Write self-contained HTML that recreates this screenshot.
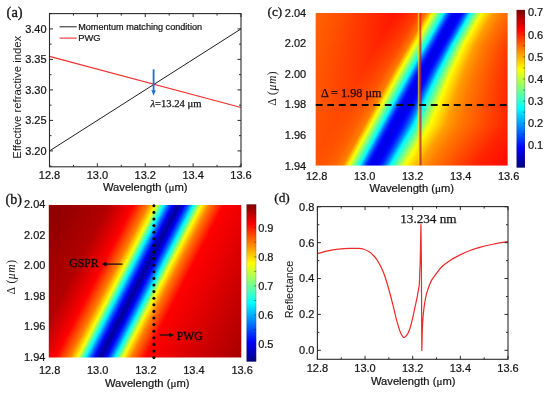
<!DOCTYPE html>
<html><head><meta charset="utf-8"><title>Figure</title>
<style>html,body{margin:0;padding:0;background:#fff;width:550px;height:396px;overflow:hidden} svg{display:block}</style>
</head><body>
<svg width="550" height="396" viewBox="0 0 550 396"><defs><linearGradient id="gB" gradientUnits="userSpaceOnUse" x1="-200" y1="0" x2="200" y2="0"><stop offset="0.0000" stop-color="#8a0000"/><stop offset="0.0100" stop-color="#8a0000"/><stop offset="0.0200" stop-color="#8a0000"/><stop offset="0.0300" stop-color="#8a0000"/><stop offset="0.0400" stop-color="#8b0000"/><stop offset="0.0500" stop-color="#8b0000"/><stop offset="0.0600" stop-color="#8b0000"/><stop offset="0.0700" stop-color="#8b0000"/><stop offset="0.0800" stop-color="#8c0000"/><stop offset="0.0900" stop-color="#8c0000"/><stop offset="0.1000" stop-color="#8c0000"/><stop offset="0.1100" stop-color="#8d0000"/><stop offset="0.1200" stop-color="#8d0000"/><stop offset="0.1300" stop-color="#8d0000"/><stop offset="0.1400" stop-color="#8d0000"/><stop offset="0.1500" stop-color="#8e0000"/><stop offset="0.1600" stop-color="#8e0000"/><stop offset="0.1700" stop-color="#8e0000"/><stop offset="0.1800" stop-color="#8e0000"/><stop offset="0.1900" stop-color="#8f0000"/><stop offset="0.2000" stop-color="#8f0000"/><stop offset="0.2100" stop-color="#920000"/><stop offset="0.2200" stop-color="#950000"/><stop offset="0.2300" stop-color="#970000"/><stop offset="0.2400" stop-color="#9a0000"/><stop offset="0.2500" stop-color="#9d0000"/><stop offset="0.2600" stop-color="#a00000"/><stop offset="0.2700" stop-color="#a30000"/><stop offset="0.2800" stop-color="#a60000"/><stop offset="0.2900" stop-color="#a90000"/><stop offset="0.3000" stop-color="#ab0000"/><stop offset="0.3100" stop-color="#ae0000"/><stop offset="0.3200" stop-color="#b10000"/><stop offset="0.3250" stop-color="#b30000"/><stop offset="0.3300" stop-color="#b90000"/><stop offset="0.3400" stop-color="#c50000"/><stop offset="0.3500" stop-color="#d10000"/><stop offset="0.3600" stop-color="#dd0000"/><stop offset="0.3700" stop-color="#ea0000"/><stop offset="0.3800" stop-color="#f60000"/><stop offset="0.3875" stop-color="#ff0000"/><stop offset="0.3900" stop-color="#ff0900"/><stop offset="0.4000" stop-color="#ff2c00"/><stop offset="0.4100" stop-color="#ff4f00"/><stop offset="0.4200" stop-color="#ff7200"/><stop offset="0.4238" stop-color="#ff8000"/><stop offset="0.4300" stop-color="#ffa900"/><stop offset="0.4400" stop-color="#ffeb00"/><stop offset="0.4430" stop-color="#ffff00"/><stop offset="0.4500" stop-color="#a1ff5e"/><stop offset="0.4525" stop-color="#80ff80"/><stop offset="0.4600" stop-color="#20ffdf"/><stop offset="0.4625" stop-color="#00ffff"/><stop offset="0.4700" stop-color="#00a0ff"/><stop offset="0.4750" stop-color="#0061ff"/><stop offset="0.4800" stop-color="#0030ff"/><stop offset="0.4850" stop-color="#0000ff"/><stop offset="0.4900" stop-color="#0000d3"/><stop offset="0.4925" stop-color="#0000bd"/><stop offset="0.5000" stop-color="#00009e"/><stop offset="0.5075" stop-color="#0000bd"/><stop offset="0.5100" stop-color="#0000d3"/><stop offset="0.5150" stop-color="#0000ff"/><stop offset="0.5200" stop-color="#0030ff"/><stop offset="0.5250" stop-color="#0061ff"/><stop offset="0.5300" stop-color="#00a0ff"/><stop offset="0.5375" stop-color="#00ffff"/><stop offset="0.5400" stop-color="#20ffdf"/><stop offset="0.5475" stop-color="#80ff80"/><stop offset="0.5500" stop-color="#a1ff5e"/><stop offset="0.5570" stop-color="#ffff00"/><stop offset="0.5600" stop-color="#ffeb00"/><stop offset="0.5700" stop-color="#ffa900"/><stop offset="0.5763" stop-color="#ff8000"/><stop offset="0.5800" stop-color="#ff7200"/><stop offset="0.5900" stop-color="#ff4f00"/><stop offset="0.6000" stop-color="#ff2c00"/><stop offset="0.6100" stop-color="#ff0900"/><stop offset="0.6125" stop-color="#ff0000"/><stop offset="0.6200" stop-color="#fc0000"/><stop offset="0.6300" stop-color="#f90000"/><stop offset="0.6400" stop-color="#f50000"/><stop offset="0.6500" stop-color="#f20000"/><stop offset="0.6600" stop-color="#ee0000"/><stop offset="0.6700" stop-color="#ea0000"/><stop offset="0.6750" stop-color="#e90000"/><stop offset="0.6800" stop-color="#e70000"/><stop offset="0.6900" stop-color="#e30000"/><stop offset="0.7000" stop-color="#df0000"/><stop offset="0.7100" stop-color="#db0000"/><stop offset="0.7200" stop-color="#d70000"/><stop offset="0.7300" stop-color="#d40000"/><stop offset="0.7400" stop-color="#d00000"/><stop offset="0.7500" stop-color="#cc0000"/><stop offset="0.7600" stop-color="#c80000"/><stop offset="0.7700" stop-color="#c50000"/><stop offset="0.7800" stop-color="#c10000"/><stop offset="0.7900" stop-color="#be0000"/><stop offset="0.8000" stop-color="#ba0000"/><stop offset="0.8100" stop-color="#b70000"/><stop offset="0.8200" stop-color="#b30000"/><stop offset="0.8300" stop-color="#af0000"/><stop offset="0.8400" stop-color="#ac0000"/><stop offset="0.8500" stop-color="#a80000"/><stop offset="0.8600" stop-color="#a70000"/><stop offset="0.8700" stop-color="#a60000"/><stop offset="0.8800" stop-color="#a40000"/><stop offset="0.8900" stop-color="#a30000"/><stop offset="0.9000" stop-color="#a20000"/><stop offset="0.9100" stop-color="#a00000"/><stop offset="0.9200" stop-color="#9f0000"/><stop offset="0.9300" stop-color="#9d0000"/><stop offset="0.9400" stop-color="#9c0000"/><stop offset="0.9500" stop-color="#9b0000"/><stop offset="0.9600" stop-color="#990000"/><stop offset="0.9700" stop-color="#980000"/><stop offset="0.9800" stop-color="#970000"/><stop offset="0.9900" stop-color="#950000"/><stop offset="1.0000" stop-color="#940000"/></linearGradient><clipPath id="cB"><rect x="48.8" y="205.1" width="192.5" height="152.4"/></clipPath><linearGradient id="cbB" x1="0" y1="0" x2="0" y2="1"><stop offset="0.000" stop-color="#800000"/><stop offset="0.025" stop-color="#990000"/><stop offset="0.050" stop-color="#b30000"/><stop offset="0.075" stop-color="#cc0000"/><stop offset="0.100" stop-color="#e50000"/><stop offset="0.125" stop-color="#ff0000"/><stop offset="0.150" stop-color="#ff1a00"/><stop offset="0.175" stop-color="#ff3300"/><stop offset="0.200" stop-color="#ff4c00"/><stop offset="0.225" stop-color="#ff6600"/><stop offset="0.250" stop-color="#ff8000"/><stop offset="0.275" stop-color="#ff9900"/><stop offset="0.300" stop-color="#ffb300"/><stop offset="0.325" stop-color="#ffcc00"/><stop offset="0.350" stop-color="#ffe500"/><stop offset="0.375" stop-color="#ffff00"/><stop offset="0.400" stop-color="#e5ff1a"/><stop offset="0.425" stop-color="#ccff33"/><stop offset="0.450" stop-color="#b3ff4c"/><stop offset="0.475" stop-color="#99ff66"/><stop offset="0.500" stop-color="#80ff80"/><stop offset="0.525" stop-color="#66ff99"/><stop offset="0.550" stop-color="#4cffb3"/><stop offset="0.575" stop-color="#33ffcc"/><stop offset="0.600" stop-color="#1affe5"/><stop offset="0.625" stop-color="#00ffff"/><stop offset="0.650" stop-color="#00e5ff"/><stop offset="0.675" stop-color="#00ccff"/><stop offset="0.700" stop-color="#00b3ff"/><stop offset="0.725" stop-color="#0099ff"/><stop offset="0.750" stop-color="#0080ff"/><stop offset="0.775" stop-color="#0066ff"/><stop offset="0.800" stop-color="#004cff"/><stop offset="0.825" stop-color="#0033ff"/><stop offset="0.850" stop-color="#001aff"/><stop offset="0.875" stop-color="#0000ff"/><stop offset="0.900" stop-color="#0000e5"/><stop offset="0.925" stop-color="#0000cc"/><stop offset="0.950" stop-color="#0000b3"/><stop offset="0.975" stop-color="#000099"/><stop offset="1.000" stop-color="#000080"/></linearGradient><clipPath id="cC"><rect x="315.7" y="12.9" width="191.90000000000003" height="152.7"/></clipPath><linearGradient id="gc0" gradientUnits="userSpaceOnUse" x1="-291.2" y1="0" x2="291.2" y2="0"><stop offset="0.0000" stop-color="#ff7a00"/><stop offset="0.2500" stop-color="#ff6800"/><stop offset="0.3077" stop-color="#ff4b00"/><stop offset="0.3269" stop-color="#ff3e00"/><stop offset="0.3654" stop-color="#ff2500"/><stop offset="0.3942" stop-color="#ff1500"/><stop offset="0.4135" stop-color="#ff2400"/><stop offset="0.4327" stop-color="#ff3d00"/><stop offset="0.4481" stop-color="#ff7900"/><stop offset="0.4519" stop-color="#ffb000"/><stop offset="0.4583" stop-color="#ffff00"/><stop offset="0.4673" stop-color="#80ff80"/><stop offset="0.4769" stop-color="#00ffff"/><stop offset="0.4827" stop-color="#0080ff"/><stop offset="0.4885" stop-color="#0024ff"/><stop offset="0.4929" stop-color="#0000ff"/><stop offset="0.4942" stop-color="#0000f5"/><stop offset="0.5000" stop-color="#0000e6"/><stop offset="0.5058" stop-color="#0000f5"/><stop offset="0.5071" stop-color="#0000ff"/><stop offset="0.5115" stop-color="#0024ff"/><stop offset="0.5173" stop-color="#0080ff"/><stop offset="0.5231" stop-color="#00ffff"/><stop offset="0.5327" stop-color="#80ff80"/><stop offset="0.5423" stop-color="#ffff00"/><stop offset="0.5615" stop-color="#ff9e00"/><stop offset="0.5769" stop-color="#ff7a00"/><stop offset="0.6058" stop-color="#ff4c00"/><stop offset="0.6346" stop-color="#ff2400"/><stop offset="0.6731" stop-color="#ff0a00"/><stop offset="0.7322" stop-color="#ff0000"/><stop offset="0.7500" stop-color="#fc0000"/><stop offset="1.0000" stop-color="#fa0000"/></linearGradient><linearGradient id="gc1" gradientUnits="userSpaceOnUse" x1="-291.2" y1="0" x2="291.2" y2="0"><stop offset="0.0000" stop-color="#ff7b00"/><stop offset="0.2500" stop-color="#ff6900"/><stop offset="0.3077" stop-color="#ff4c00"/><stop offset="0.3269" stop-color="#ff3f00"/><stop offset="0.3654" stop-color="#ff2700"/><stop offset="0.3942" stop-color="#ff1600"/><stop offset="0.4135" stop-color="#ff2500"/><stop offset="0.4327" stop-color="#ff3e00"/><stop offset="0.4481" stop-color="#ff7a00"/><stop offset="0.4519" stop-color="#ffb000"/><stop offset="0.4583" stop-color="#ffff00"/><stop offset="0.4673" stop-color="#80ff80"/><stop offset="0.4769" stop-color="#00ffff"/><stop offset="0.4827" stop-color="#0080ff"/><stop offset="0.4885" stop-color="#0024ff"/><stop offset="0.4929" stop-color="#0000ff"/><stop offset="0.4942" stop-color="#0000f5"/><stop offset="0.5000" stop-color="#0000e6"/><stop offset="0.5058" stop-color="#0000f5"/><stop offset="0.5071" stop-color="#0000ff"/><stop offset="0.5115" stop-color="#0024ff"/><stop offset="0.5173" stop-color="#0080ff"/><stop offset="0.5231" stop-color="#00ffff"/><stop offset="0.5327" stop-color="#80ff80"/><stop offset="0.5423" stop-color="#ffff00"/><stop offset="0.5615" stop-color="#ff9e00"/><stop offset="0.5769" stop-color="#ff7a00"/><stop offset="0.6058" stop-color="#ff4c00"/><stop offset="0.6346" stop-color="#ff2400"/><stop offset="0.6731" stop-color="#ff0a00"/><stop offset="0.7322" stop-color="#ff0000"/><stop offset="0.7500" stop-color="#fc0000"/><stop offset="1.0000" stop-color="#fa0000"/></linearGradient><linearGradient id="gc2" gradientUnits="userSpaceOnUse" x1="-291.2" y1="0" x2="291.2" y2="0"><stop offset="0.0000" stop-color="#ff7b00"/><stop offset="0.2500" stop-color="#ff6900"/><stop offset="0.3077" stop-color="#ff4d00"/><stop offset="0.3269" stop-color="#ff4000"/><stop offset="0.3654" stop-color="#ff2800"/><stop offset="0.3942" stop-color="#ff1800"/><stop offset="0.4135" stop-color="#ff2700"/><stop offset="0.4327" stop-color="#ff3f00"/><stop offset="0.4481" stop-color="#ff7a00"/><stop offset="0.4519" stop-color="#ffb000"/><stop offset="0.4583" stop-color="#ffff00"/><stop offset="0.4673" stop-color="#80ff80"/><stop offset="0.4769" stop-color="#00ffff"/><stop offset="0.4827" stop-color="#0080ff"/><stop offset="0.4885" stop-color="#0024ff"/><stop offset="0.4929" stop-color="#0000ff"/><stop offset="0.4942" stop-color="#0000f5"/><stop offset="0.5000" stop-color="#0000e6"/><stop offset="0.5058" stop-color="#0000f5"/><stop offset="0.5071" stop-color="#0000ff"/><stop offset="0.5115" stop-color="#0024ff"/><stop offset="0.5173" stop-color="#0080ff"/><stop offset="0.5231" stop-color="#00ffff"/><stop offset="0.5327" stop-color="#80ff80"/><stop offset="0.5423" stop-color="#ffff00"/><stop offset="0.5615" stop-color="#ff9e00"/><stop offset="0.5769" stop-color="#ff7a00"/><stop offset="0.6058" stop-color="#ff4c00"/><stop offset="0.6346" stop-color="#ff2400"/><stop offset="0.6731" stop-color="#ff0a00"/><stop offset="0.7322" stop-color="#ff0000"/><stop offset="0.7500" stop-color="#fc0000"/><stop offset="1.0000" stop-color="#fa0000"/></linearGradient><linearGradient id="gc3" gradientUnits="userSpaceOnUse" x1="-291.2" y1="0" x2="291.2" y2="0"><stop offset="0.0000" stop-color="#ff7b00"/><stop offset="0.2500" stop-color="#ff6a00"/><stop offset="0.3077" stop-color="#ff4e00"/><stop offset="0.3269" stop-color="#ff4100"/><stop offset="0.3654" stop-color="#ff2a00"/><stop offset="0.3942" stop-color="#ff1a00"/><stop offset="0.4135" stop-color="#ff2800"/><stop offset="0.4327" stop-color="#ff4000"/><stop offset="0.4481" stop-color="#ff7a00"/><stop offset="0.4519" stop-color="#ffb000"/><stop offset="0.4583" stop-color="#ffff00"/><stop offset="0.4673" stop-color="#80ff80"/><stop offset="0.4769" stop-color="#00ffff"/><stop offset="0.4827" stop-color="#0080ff"/><stop offset="0.4885" stop-color="#0024ff"/><stop offset="0.4929" stop-color="#0000ff"/><stop offset="0.4942" stop-color="#0000f5"/><stop offset="0.5000" stop-color="#0000e6"/><stop offset="0.5058" stop-color="#0000f5"/><stop offset="0.5071" stop-color="#0000ff"/><stop offset="0.5115" stop-color="#0024ff"/><stop offset="0.5173" stop-color="#0080ff"/><stop offset="0.5231" stop-color="#00ffff"/><stop offset="0.5327" stop-color="#80ff80"/><stop offset="0.5423" stop-color="#ffff00"/><stop offset="0.5615" stop-color="#ff9e00"/><stop offset="0.5769" stop-color="#ff7a00"/><stop offset="0.6058" stop-color="#ff4c00"/><stop offset="0.6346" stop-color="#ff2400"/><stop offset="0.6731" stop-color="#ff0a00"/><stop offset="0.7322" stop-color="#ff0000"/><stop offset="0.7500" stop-color="#fc0000"/><stop offset="1.0000" stop-color="#fa0000"/></linearGradient><linearGradient id="gc4" gradientUnits="userSpaceOnUse" x1="-291.2" y1="0" x2="291.2" y2="0"><stop offset="0.0000" stop-color="#ff7b00"/><stop offset="0.2500" stop-color="#ff6a00"/><stop offset="0.3077" stop-color="#ff4f00"/><stop offset="0.3269" stop-color="#ff4200"/><stop offset="0.3654" stop-color="#ff2b00"/><stop offset="0.3942" stop-color="#ff1b00"/><stop offset="0.4135" stop-color="#ff2900"/><stop offset="0.4327" stop-color="#ff4100"/><stop offset="0.4481" stop-color="#ff7a00"/><stop offset="0.4519" stop-color="#ffb000"/><stop offset="0.4583" stop-color="#ffff00"/><stop offset="0.4673" stop-color="#80ff80"/><stop offset="0.4769" stop-color="#00ffff"/><stop offset="0.4827" stop-color="#0080ff"/><stop offset="0.4885" stop-color="#0024ff"/><stop offset="0.4929" stop-color="#0000ff"/><stop offset="0.4942" stop-color="#0000f5"/><stop offset="0.5000" stop-color="#0000e6"/><stop offset="0.5058" stop-color="#0000f5"/><stop offset="0.5071" stop-color="#0000ff"/><stop offset="0.5115" stop-color="#0024ff"/><stop offset="0.5173" stop-color="#0080ff"/><stop offset="0.5231" stop-color="#00ffff"/><stop offset="0.5327" stop-color="#80ff80"/><stop offset="0.5423" stop-color="#ffff00"/><stop offset="0.5615" stop-color="#ff9e00"/><stop offset="0.5769" stop-color="#ff7a00"/><stop offset="0.6058" stop-color="#ff4c00"/><stop offset="0.6346" stop-color="#ff2400"/><stop offset="0.6731" stop-color="#ff0a00"/><stop offset="0.7322" stop-color="#ff0000"/><stop offset="0.7500" stop-color="#fc0000"/><stop offset="1.0000" stop-color="#fa0000"/></linearGradient><linearGradient id="gc5" gradientUnits="userSpaceOnUse" x1="-291.2" y1="0" x2="291.2" y2="0"><stop offset="0.0000" stop-color="#ff7b00"/><stop offset="0.2500" stop-color="#ff6b00"/><stop offset="0.3077" stop-color="#ff5000"/><stop offset="0.3269" stop-color="#ff4300"/><stop offset="0.3654" stop-color="#ff2c00"/><stop offset="0.3942" stop-color="#ff1d00"/><stop offset="0.4135" stop-color="#ff2a00"/><stop offset="0.4327" stop-color="#ff4200"/><stop offset="0.4481" stop-color="#ff7a00"/><stop offset="0.4519" stop-color="#ffb000"/><stop offset="0.4583" stop-color="#ffff00"/><stop offset="0.4673" stop-color="#80ff80"/><stop offset="0.4769" stop-color="#00ffff"/><stop offset="0.4827" stop-color="#0080ff"/><stop offset="0.4885" stop-color="#0024ff"/><stop offset="0.4929" stop-color="#0000ff"/><stop offset="0.4942" stop-color="#0000f5"/><stop offset="0.5000" stop-color="#0000e6"/><stop offset="0.5058" stop-color="#0000f5"/><stop offset="0.5071" stop-color="#0000ff"/><stop offset="0.5115" stop-color="#0024ff"/><stop offset="0.5173" stop-color="#0080ff"/><stop offset="0.5231" stop-color="#00ffff"/><stop offset="0.5327" stop-color="#80ff80"/><stop offset="0.5423" stop-color="#ffff00"/><stop offset="0.5615" stop-color="#ff9e00"/><stop offset="0.5769" stop-color="#ff7a00"/><stop offset="0.6058" stop-color="#ff4c00"/><stop offset="0.6346" stop-color="#ff2400"/><stop offset="0.6731" stop-color="#ff0a00"/><stop offset="0.7322" stop-color="#ff0000"/><stop offset="0.7500" stop-color="#fc0000"/><stop offset="1.0000" stop-color="#fa0000"/></linearGradient><linearGradient id="gc6" gradientUnits="userSpaceOnUse" x1="-291.2" y1="0" x2="291.2" y2="0"><stop offset="0.0000" stop-color="#ff7b00"/><stop offset="0.2500" stop-color="#ff6b00"/><stop offset="0.3077" stop-color="#ff5000"/><stop offset="0.3269" stop-color="#ff4500"/><stop offset="0.3654" stop-color="#ff2e00"/><stop offset="0.3942" stop-color="#ff1e00"/><stop offset="0.4135" stop-color="#ff2c00"/><stop offset="0.4327" stop-color="#ff4300"/><stop offset="0.4481" stop-color="#ff7b00"/><stop offset="0.4519" stop-color="#ffb000"/><stop offset="0.4583" stop-color="#ffff00"/><stop offset="0.4673" stop-color="#80ff80"/><stop offset="0.4769" stop-color="#00ffff"/><stop offset="0.4827" stop-color="#0080ff"/><stop offset="0.4885" stop-color="#0024ff"/><stop offset="0.4929" stop-color="#0000ff"/><stop offset="0.4942" stop-color="#0000f5"/><stop offset="0.5000" stop-color="#0000e6"/><stop offset="0.5058" stop-color="#0000f5"/><stop offset="0.5071" stop-color="#0000ff"/><stop offset="0.5115" stop-color="#0024ff"/><stop offset="0.5173" stop-color="#0080ff"/><stop offset="0.5231" stop-color="#00ffff"/><stop offset="0.5327" stop-color="#80ff80"/><stop offset="0.5423" stop-color="#ffff00"/><stop offset="0.5615" stop-color="#ff9e00"/><stop offset="0.5769" stop-color="#ff7a00"/><stop offset="0.6058" stop-color="#ff4c00"/><stop offset="0.6346" stop-color="#ff2400"/><stop offset="0.6731" stop-color="#ff0a00"/><stop offset="0.7322" stop-color="#ff0000"/><stop offset="0.7500" stop-color="#fc0000"/><stop offset="1.0000" stop-color="#fa0000"/></linearGradient><linearGradient id="gc7" gradientUnits="userSpaceOnUse" x1="-291.2" y1="0" x2="291.2" y2="0"><stop offset="0.0000" stop-color="#ff7c00"/><stop offset="0.2500" stop-color="#ff6c00"/><stop offset="0.3077" stop-color="#ff5100"/><stop offset="0.3269" stop-color="#ff4600"/><stop offset="0.3654" stop-color="#ff2f00"/><stop offset="0.3942" stop-color="#ff2000"/><stop offset="0.4135" stop-color="#ff2d00"/><stop offset="0.4327" stop-color="#ff4400"/><stop offset="0.4481" stop-color="#ff7b00"/><stop offset="0.4519" stop-color="#ffb000"/><stop offset="0.4583" stop-color="#ffff00"/><stop offset="0.4673" stop-color="#80ff80"/><stop offset="0.4769" stop-color="#00ffff"/><stop offset="0.4827" stop-color="#0080ff"/><stop offset="0.4885" stop-color="#0024ff"/><stop offset="0.4929" stop-color="#0000ff"/><stop offset="0.4942" stop-color="#0000f5"/><stop offset="0.5000" stop-color="#0000e6"/><stop offset="0.5058" stop-color="#0000f5"/><stop offset="0.5071" stop-color="#0000ff"/><stop offset="0.5115" stop-color="#0024ff"/><stop offset="0.5173" stop-color="#0080ff"/><stop offset="0.5231" stop-color="#00ffff"/><stop offset="0.5327" stop-color="#80ff80"/><stop offset="0.5423" stop-color="#ffff00"/><stop offset="0.5615" stop-color="#ff9e00"/><stop offset="0.5769" stop-color="#ff7a00"/><stop offset="0.6058" stop-color="#ff4c00"/><stop offset="0.6346" stop-color="#ff2400"/><stop offset="0.6731" stop-color="#ff0a00"/><stop offset="0.7322" stop-color="#ff0000"/><stop offset="0.7500" stop-color="#fc0000"/><stop offset="1.0000" stop-color="#fa0000"/></linearGradient><linearGradient id="gc8" gradientUnits="userSpaceOnUse" x1="-291.2" y1="0" x2="291.2" y2="0"><stop offset="0.0000" stop-color="#ff7c00"/><stop offset="0.2500" stop-color="#ff6c00"/><stop offset="0.3077" stop-color="#ff5200"/><stop offset="0.3269" stop-color="#ff4700"/><stop offset="0.3654" stop-color="#ff3100"/><stop offset="0.3942" stop-color="#ff2200"/><stop offset="0.4135" stop-color="#ff2e00"/><stop offset="0.4327" stop-color="#ff4500"/><stop offset="0.4481" stop-color="#ff7b00"/><stop offset="0.4519" stop-color="#ffb000"/><stop offset="0.4583" stop-color="#ffff00"/><stop offset="0.4673" stop-color="#80ff80"/><stop offset="0.4769" stop-color="#00ffff"/><stop offset="0.4827" stop-color="#0080ff"/><stop offset="0.4885" stop-color="#0024ff"/><stop offset="0.4929" stop-color="#0000ff"/><stop offset="0.4942" stop-color="#0000f5"/><stop offset="0.5000" stop-color="#0000e6"/><stop offset="0.5058" stop-color="#0000f5"/><stop offset="0.5071" stop-color="#0000ff"/><stop offset="0.5115" stop-color="#0024ff"/><stop offset="0.5173" stop-color="#0080ff"/><stop offset="0.5231" stop-color="#00ffff"/><stop offset="0.5327" stop-color="#80ff80"/><stop offset="0.5423" stop-color="#ffff00"/><stop offset="0.5615" stop-color="#ff9e00"/><stop offset="0.5769" stop-color="#ff7a00"/><stop offset="0.6058" stop-color="#ff4c00"/><stop offset="0.6346" stop-color="#ff2400"/><stop offset="0.6731" stop-color="#ff0a00"/><stop offset="0.7322" stop-color="#ff0000"/><stop offset="0.7500" stop-color="#fc0000"/><stop offset="1.0000" stop-color="#fa0000"/></linearGradient><linearGradient id="gc9" gradientUnits="userSpaceOnUse" x1="-291.2" y1="0" x2="291.2" y2="0"><stop offset="0.0000" stop-color="#ff7c00"/><stop offset="0.2500" stop-color="#ff6d00"/><stop offset="0.3077" stop-color="#ff5300"/><stop offset="0.3269" stop-color="#ff4800"/><stop offset="0.3654" stop-color="#ff3200"/><stop offset="0.3942" stop-color="#ff2300"/><stop offset="0.4135" stop-color="#ff3000"/><stop offset="0.4327" stop-color="#ff4600"/><stop offset="0.4481" stop-color="#ff7b00"/><stop offset="0.4519" stop-color="#ffb000"/><stop offset="0.4583" stop-color="#ffff00"/><stop offset="0.4673" stop-color="#80ff80"/><stop offset="0.4769" stop-color="#00ffff"/><stop offset="0.4827" stop-color="#0080ff"/><stop offset="0.4885" stop-color="#0024ff"/><stop offset="0.4929" stop-color="#0000ff"/><stop offset="0.4942" stop-color="#0000f5"/><stop offset="0.5000" stop-color="#0000e6"/><stop offset="0.5058" stop-color="#0000f5"/><stop offset="0.5071" stop-color="#0000ff"/><stop offset="0.5115" stop-color="#0024ff"/><stop offset="0.5173" stop-color="#0080ff"/><stop offset="0.5231" stop-color="#00ffff"/><stop offset="0.5327" stop-color="#80ff80"/><stop offset="0.5423" stop-color="#ffff00"/><stop offset="0.5615" stop-color="#ff9e00"/><stop offset="0.5769" stop-color="#ff7a00"/><stop offset="0.6058" stop-color="#ff4c00"/><stop offset="0.6346" stop-color="#ff2400"/><stop offset="0.6731" stop-color="#ff0a00"/><stop offset="0.7322" stop-color="#ff0000"/><stop offset="0.7500" stop-color="#fc0000"/><stop offset="1.0000" stop-color="#fa0000"/></linearGradient><linearGradient id="gc10" gradientUnits="userSpaceOnUse" x1="-291.2" y1="0" x2="291.2" y2="0"><stop offset="0.0000" stop-color="#ff7c00"/><stop offset="0.2500" stop-color="#ff6d00"/><stop offset="0.3077" stop-color="#ff5400"/><stop offset="0.3269" stop-color="#ff4900"/><stop offset="0.3654" stop-color="#ff3400"/><stop offset="0.3942" stop-color="#ff2500"/><stop offset="0.4135" stop-color="#ff3100"/><stop offset="0.4327" stop-color="#ff4700"/><stop offset="0.4481" stop-color="#ff7b00"/><stop offset="0.4519" stop-color="#ffb000"/><stop offset="0.4583" stop-color="#ffff00"/><stop offset="0.4673" stop-color="#80ff80"/><stop offset="0.4769" stop-color="#00ffff"/><stop offset="0.4827" stop-color="#0080ff"/><stop offset="0.4885" stop-color="#0024ff"/><stop offset="0.4929" stop-color="#0000ff"/><stop offset="0.4942" stop-color="#0000f5"/><stop offset="0.5000" stop-color="#0000e6"/><stop offset="0.5058" stop-color="#0000f5"/><stop offset="0.5071" stop-color="#0000ff"/><stop offset="0.5115" stop-color="#0024ff"/><stop offset="0.5173" stop-color="#0080ff"/><stop offset="0.5231" stop-color="#00ffff"/><stop offset="0.5327" stop-color="#80ff80"/><stop offset="0.5423" stop-color="#ffff00"/><stop offset="0.5615" stop-color="#ff9e00"/><stop offset="0.5769" stop-color="#ff7a00"/><stop offset="0.6058" stop-color="#ff4c00"/><stop offset="0.6346" stop-color="#ff2400"/><stop offset="0.6731" stop-color="#ff0a00"/><stop offset="0.7322" stop-color="#ff0000"/><stop offset="0.7500" stop-color="#fc0000"/><stop offset="1.0000" stop-color="#fa0000"/></linearGradient><linearGradient id="gc11" gradientUnits="userSpaceOnUse" x1="-291.2" y1="0" x2="293.2" y2="0"><stop offset="0.0000" stop-color="#ff7c00"/><stop offset="0.2491" stop-color="#ff6d00"/><stop offset="0.3066" stop-color="#ff5500"/><stop offset="0.3258" stop-color="#ff4a00"/><stop offset="0.3641" stop-color="#ff3500"/><stop offset="0.3929" stop-color="#ff2700"/><stop offset="0.4120" stop-color="#ff3200"/><stop offset="0.4312" stop-color="#ff4800"/><stop offset="0.4465" stop-color="#ff7c00"/><stop offset="0.4504" stop-color="#ffb000"/><stop offset="0.4567" stop-color="#ffff00"/><stop offset="0.4657" stop-color="#80ff80"/><stop offset="0.4753" stop-color="#00ffff"/><stop offset="0.4810" stop-color="#0080ff"/><stop offset="0.4868" stop-color="#0024ff"/><stop offset="0.4913" stop-color="#0000ff"/><stop offset="0.4925" stop-color="#0000f5"/><stop offset="0.4983" stop-color="#0000e6"/><stop offset="0.5041" stop-color="#0000f5"/><stop offset="0.5054" stop-color="#0000ff"/><stop offset="0.5099" stop-color="#0024ff"/><stop offset="0.5157" stop-color="#0080ff"/><stop offset="0.5214" stop-color="#00ffff"/><stop offset="0.5311" stop-color="#80ff80"/><stop offset="0.5407" stop-color="#ffff00"/><stop offset="0.5600" stop-color="#ff9e00"/><stop offset="0.5755" stop-color="#ff7a00"/><stop offset="0.6044" stop-color="#ff4c00"/><stop offset="0.6334" stop-color="#ff2400"/><stop offset="0.6720" stop-color="#ff0a00"/><stop offset="0.7313" stop-color="#ff0000"/><stop offset="0.7491" stop-color="#fc0000"/><stop offset="1.0000" stop-color="#fa0000"/></linearGradient><linearGradient id="gc12" gradientUnits="userSpaceOnUse" x1="-291.2" y1="0" x2="297.2" y2="0"><stop offset="0.0000" stop-color="#ff7c00"/><stop offset="0.2474" stop-color="#ff6e00"/><stop offset="0.3045" stop-color="#ff5600"/><stop offset="0.3236" stop-color="#ff4b00"/><stop offset="0.3616" stop-color="#ff3600"/><stop offset="0.3902" stop-color="#ff2800"/><stop offset="0.4092" stop-color="#ff3400"/><stop offset="0.4283" stop-color="#ff4900"/><stop offset="0.4435" stop-color="#ff7c00"/><stop offset="0.4473" stop-color="#ffb000"/><stop offset="0.4536" stop-color="#ffff00"/><stop offset="0.4625" stop-color="#80ff80"/><stop offset="0.4720" stop-color="#00ffff"/><stop offset="0.4778" stop-color="#0080ff"/><stop offset="0.4835" stop-color="#0024ff"/><stop offset="0.4879" stop-color="#0000ff"/><stop offset="0.4892" stop-color="#0000f5"/><stop offset="0.4949" stop-color="#0000e6"/><stop offset="0.5007" stop-color="#0000f5"/><stop offset="0.5020" stop-color="#0000ff"/><stop offset="0.5065" stop-color="#0024ff"/><stop offset="0.5124" stop-color="#0080ff"/><stop offset="0.5182" stop-color="#00ffff"/><stop offset="0.5279" stop-color="#80ff80"/><stop offset="0.5376" stop-color="#ffff00"/><stop offset="0.5571" stop-color="#ff9e00"/><stop offset="0.5726" stop-color="#ff7a00"/><stop offset="0.6017" stop-color="#ff4c00"/><stop offset="0.6309" stop-color="#ff2400"/><stop offset="0.6697" stop-color="#ff0a00"/><stop offset="0.7295" stop-color="#ff0000"/><stop offset="0.7474" stop-color="#fc0000"/><stop offset="1.0000" stop-color="#fa0000"/></linearGradient><linearGradient id="gc13" gradientUnits="userSpaceOnUse" x1="-291.2" y1="0" x2="301.2" y2="0"><stop offset="0.0000" stop-color="#ff7d00"/><stop offset="0.2458" stop-color="#ff6e00"/><stop offset="0.3025" stop-color="#ff5700"/><stop offset="0.3214" stop-color="#ff4d00"/><stop offset="0.3592" stop-color="#ff3800"/><stop offset="0.3876" stop-color="#ff2a00"/><stop offset="0.4065" stop-color="#ff3500"/><stop offset="0.4254" stop-color="#ff4a00"/><stop offset="0.4405" stop-color="#ff7c00"/><stop offset="0.4443" stop-color="#ffb000"/><stop offset="0.4505" stop-color="#ffff00"/><stop offset="0.4594" stop-color="#80ff80"/><stop offset="0.4688" stop-color="#00ffff"/><stop offset="0.4745" stop-color="#0080ff"/><stop offset="0.4802" stop-color="#0024ff"/><stop offset="0.4846" stop-color="#0000ff"/><stop offset="0.4859" stop-color="#0000f5"/><stop offset="0.4915" stop-color="#0000e6"/><stop offset="0.4974" stop-color="#0000f5"/><stop offset="0.4987" stop-color="#0000ff"/><stop offset="0.5033" stop-color="#0024ff"/><stop offset="0.5091" stop-color="#0080ff"/><stop offset="0.5150" stop-color="#00ffff"/><stop offset="0.5248" stop-color="#80ff80"/><stop offset="0.5346" stop-color="#ffff00"/><stop offset="0.5541" stop-color="#ff9e00"/><stop offset="0.5698" stop-color="#ff7a00"/><stop offset="0.5991" stop-color="#ff4c00"/><stop offset="0.6284" stop-color="#ff2400"/><stop offset="0.6675" stop-color="#ff0a00"/><stop offset="0.7277" stop-color="#ff0000"/><stop offset="0.7458" stop-color="#fc0000"/><stop offset="1.0000" stop-color="#fa0000"/></linearGradient><linearGradient id="gc14" gradientUnits="userSpaceOnUse" x1="-291.2" y1="0" x2="305.2" y2="0"><stop offset="0.0000" stop-color="#ff7d00"/><stop offset="0.2441" stop-color="#ff6f00"/><stop offset="0.3004" stop-color="#ff5800"/><stop offset="0.3192" stop-color="#ff4e00"/><stop offset="0.3568" stop-color="#ff3900"/><stop offset="0.3850" stop-color="#ff2b00"/><stop offset="0.4037" stop-color="#ff3600"/><stop offset="0.4225" stop-color="#ff4b00"/><stop offset="0.4375" stop-color="#ff7c00"/><stop offset="0.4413" stop-color="#ffb000"/><stop offset="0.4475" stop-color="#ffff00"/><stop offset="0.4563" stop-color="#80ff80"/><stop offset="0.4657" stop-color="#00ffff"/><stop offset="0.4713" stop-color="#0080ff"/><stop offset="0.4770" stop-color="#0024ff"/><stop offset="0.4813" stop-color="#0000ff"/><stop offset="0.4826" stop-color="#0000f5"/><stop offset="0.4882" stop-color="#0000e6"/><stop offset="0.4941" stop-color="#0000f5"/><stop offset="0.4954" stop-color="#0000ff"/><stop offset="0.5000" stop-color="#0024ff"/><stop offset="0.5059" stop-color="#0080ff"/><stop offset="0.5119" stop-color="#00ffff"/><stop offset="0.5217" stop-color="#80ff80"/><stop offset="0.5315" stop-color="#ffff00"/><stop offset="0.5512" stop-color="#ff9e00"/><stop offset="0.5670" stop-color="#ff7a00"/><stop offset="0.5965" stop-color="#ff4c00"/><stop offset="0.6260" stop-color="#ff2400"/><stop offset="0.6654" stop-color="#ff0a00"/><stop offset="0.7259" stop-color="#ff0000"/><stop offset="0.7441" stop-color="#fc0000"/><stop offset="1.0000" stop-color="#fa0000"/></linearGradient><linearGradient id="gc15" gradientUnits="userSpaceOnUse" x1="-291.2" y1="0" x2="309.3" y2="0"><stop offset="0.0000" stop-color="#ff7d00"/><stop offset="0.2425" stop-color="#ff6f00"/><stop offset="0.2984" stop-color="#ff5900"/><stop offset="0.3171" stop-color="#ff4f00"/><stop offset="0.3544" stop-color="#ff3b00"/><stop offset="0.3824" stop-color="#ff2d00"/><stop offset="0.4010" stop-color="#ff3700"/><stop offset="0.4197" stop-color="#ff4c00"/><stop offset="0.4346" stop-color="#ff7c00"/><stop offset="0.4383" stop-color="#ffb000"/><stop offset="0.4445" stop-color="#ffff00"/><stop offset="0.4533" stop-color="#80ff80"/><stop offset="0.4626" stop-color="#00ffff"/><stop offset="0.4682" stop-color="#0080ff"/><stop offset="0.4738" stop-color="#0024ff"/><stop offset="0.4781" stop-color="#0000ff"/><stop offset="0.4794" stop-color="#0000f5"/><stop offset="0.4850" stop-color="#0000e6"/><stop offset="0.4909" stop-color="#0000f5"/><stop offset="0.4922" stop-color="#0000ff"/><stop offset="0.4969" stop-color="#0024ff"/><stop offset="0.5028" stop-color="#0080ff"/><stop offset="0.5087" stop-color="#00ffff"/><stop offset="0.5186" stop-color="#80ff80"/><stop offset="0.5285" stop-color="#ffff00"/><stop offset="0.5484" stop-color="#ff9e00"/><stop offset="0.5642" stop-color="#ff7a00"/><stop offset="0.5939" stop-color="#ff4c00"/><stop offset="0.6236" stop-color="#ff2400"/><stop offset="0.6632" stop-color="#ff0a00"/><stop offset="0.7242" stop-color="#ff0000"/><stop offset="0.7425" stop-color="#fc0000"/><stop offset="1.0000" stop-color="#fa0000"/></linearGradient><linearGradient id="gc16" gradientUnits="userSpaceOnUse" x1="-291.2" y1="0" x2="313.3" y2="0"><stop offset="0.0000" stop-color="#ff7d00"/><stop offset="0.2409" stop-color="#ff7000"/><stop offset="0.2965" stop-color="#ff5a00"/><stop offset="0.3150" stop-color="#ff5000"/><stop offset="0.3520" stop-color="#ff3c00"/><stop offset="0.3798" stop-color="#ff2f00"/><stop offset="0.3984" stop-color="#ff3900"/><stop offset="0.4169" stop-color="#ff4d00"/><stop offset="0.4317" stop-color="#ff7d00"/><stop offset="0.4354" stop-color="#ffb000"/><stop offset="0.4415" stop-color="#ffff00"/><stop offset="0.4503" stop-color="#80ff80"/><stop offset="0.4595" stop-color="#00ffff"/><stop offset="0.4651" stop-color="#0080ff"/><stop offset="0.4706" stop-color="#0024ff"/><stop offset="0.4750" stop-color="#0000ff"/><stop offset="0.4762" stop-color="#0000f5"/><stop offset="0.4818" stop-color="#0000e6"/><stop offset="0.4877" stop-color="#0000f5"/><stop offset="0.4891" stop-color="#0000ff"/><stop offset="0.4937" stop-color="#0024ff"/><stop offset="0.4997" stop-color="#0080ff"/><stop offset="0.5057" stop-color="#00ffff"/><stop offset="0.5156" stop-color="#80ff80"/><stop offset="0.5256" stop-color="#ffff00"/><stop offset="0.5455" stop-color="#ff9e00"/><stop offset="0.5615" stop-color="#ff7a00"/><stop offset="0.5914" stop-color="#ff4c00"/><stop offset="0.6213" stop-color="#ff2400"/><stop offset="0.6611" stop-color="#ff0a00"/><stop offset="0.7225" stop-color="#ff0000"/><stop offset="0.7409" stop-color="#fc0000"/><stop offset="1.0000" stop-color="#fa0000"/></linearGradient><linearGradient id="gc17" gradientUnits="userSpaceOnUse" x1="-291.2" y1="0" x2="317.3" y2="0"><stop offset="0.0000" stop-color="#ff7d00"/><stop offset="0.2393" stop-color="#ff7000"/><stop offset="0.2945" stop-color="#ff5b00"/><stop offset="0.3129" stop-color="#ff5100"/><stop offset="0.3497" stop-color="#ff3d00"/><stop offset="0.3773" stop-color="#ff3000"/><stop offset="0.3957" stop-color="#ff3a00"/><stop offset="0.4142" stop-color="#ff4e00"/><stop offset="0.4289" stop-color="#ff7d00"/><stop offset="0.4326" stop-color="#ffb000"/><stop offset="0.4386" stop-color="#ffff00"/><stop offset="0.4473" stop-color="#80ff80"/><stop offset="0.4565" stop-color="#00ffff"/><stop offset="0.4620" stop-color="#0080ff"/><stop offset="0.4675" stop-color="#0024ff"/><stop offset="0.4718" stop-color="#0000ff"/><stop offset="0.4731" stop-color="#0000f5"/><stop offset="0.4786" stop-color="#0000e6"/><stop offset="0.4846" stop-color="#0000f5"/><stop offset="0.4859" stop-color="#0000ff"/><stop offset="0.4906" stop-color="#0024ff"/><stop offset="0.4966" stop-color="#0080ff"/><stop offset="0.5026" stop-color="#00ffff"/><stop offset="0.5127" stop-color="#80ff80"/><stop offset="0.5227" stop-color="#ffff00"/><stop offset="0.5427" stop-color="#ff9e00"/><stop offset="0.5588" stop-color="#ff7a00"/><stop offset="0.5889" stop-color="#ff4c00"/><stop offset="0.6190" stop-color="#ff2400"/><stop offset="0.6591" stop-color="#ff0a00"/><stop offset="0.7208" stop-color="#ff0000"/><stop offset="0.7393" stop-color="#fc0000"/><stop offset="1.0000" stop-color="#fa0000"/></linearGradient><linearGradient id="gc18" gradientUnits="userSpaceOnUse" x1="-291.2" y1="0" x2="321.3" y2="0"><stop offset="0.0000" stop-color="#ff7d00"/><stop offset="0.2377" stop-color="#ff7100"/><stop offset="0.2926" stop-color="#ff5c00"/><stop offset="0.3109" stop-color="#ff5200"/><stop offset="0.3474" stop-color="#ff3f00"/><stop offset="0.3749" stop-color="#ff3200"/><stop offset="0.3932" stop-color="#ff3b00"/><stop offset="0.4114" stop-color="#ff4f00"/><stop offset="0.4261" stop-color="#ff7d00"/><stop offset="0.4297" stop-color="#ffb000"/><stop offset="0.4358" stop-color="#ffff00"/><stop offset="0.4444" stop-color="#80ff80"/><stop offset="0.4535" stop-color="#00ffff"/><stop offset="0.4590" stop-color="#0080ff"/><stop offset="0.4645" stop-color="#0024ff"/><stop offset="0.4687" stop-color="#0000ff"/><stop offset="0.4700" stop-color="#0000f5"/><stop offset="0.4754" stop-color="#0000e6"/><stop offset="0.4815" stop-color="#0000f5"/><stop offset="0.4828" stop-color="#0000ff"/><stop offset="0.4875" stop-color="#0024ff"/><stop offset="0.4936" stop-color="#0080ff"/><stop offset="0.4997" stop-color="#00ffff"/><stop offset="0.5097" stop-color="#80ff80"/><stop offset="0.5198" stop-color="#ffff00"/><stop offset="0.5400" stop-color="#ff9e00"/><stop offset="0.5561" stop-color="#ff7a00"/><stop offset="0.5864" stop-color="#ff4c00"/><stop offset="0.6167" stop-color="#ff2400"/><stop offset="0.6570" stop-color="#ff0a00"/><stop offset="0.7191" stop-color="#ff0000"/><stop offset="0.7377" stop-color="#fc0000"/><stop offset="1.0000" stop-color="#fa0000"/></linearGradient><linearGradient id="gc19" gradientUnits="userSpaceOnUse" x1="-291.2" y1="0" x2="325.3" y2="0"><stop offset="0.0000" stop-color="#ff7d00"/><stop offset="0.2362" stop-color="#ff7100"/><stop offset="0.2907" stop-color="#ff5d00"/><stop offset="0.3088" stop-color="#ff5300"/><stop offset="0.3452" stop-color="#ff4000"/><stop offset="0.3724" stop-color="#ff3300"/><stop offset="0.3906" stop-color="#ff3c00"/><stop offset="0.4088" stop-color="#ff5000"/><stop offset="0.4233" stop-color="#ff7d00"/><stop offset="0.4269" stop-color="#ffb000"/><stop offset="0.4329" stop-color="#ffff00"/><stop offset="0.4415" stop-color="#80ff80"/><stop offset="0.4505" stop-color="#00ffff"/><stop offset="0.4560" stop-color="#0080ff"/><stop offset="0.4614" stop-color="#0024ff"/><stop offset="0.4657" stop-color="#0000ff"/><stop offset="0.4669" stop-color="#0000f5"/><stop offset="0.4723" stop-color="#0000e6"/><stop offset="0.4784" stop-color="#0000f5"/><stop offset="0.4798" stop-color="#0000ff"/><stop offset="0.4845" stop-color="#0024ff"/><stop offset="0.4906" stop-color="#0080ff"/><stop offset="0.4967" stop-color="#00ffff"/><stop offset="0.5068" stop-color="#80ff80"/><stop offset="0.5170" stop-color="#ffff00"/><stop offset="0.5373" stop-color="#ff9e00"/><stop offset="0.5535" stop-color="#ff7a00"/><stop offset="0.5840" stop-color="#ff4c00"/><stop offset="0.6144" stop-color="#ff2400"/><stop offset="0.6550" stop-color="#ff0a00"/><stop offset="0.7174" stop-color="#ff0000"/><stop offset="0.7362" stop-color="#fc0000"/><stop offset="1.0000" stop-color="#fa0000"/></linearGradient><linearGradient id="gc20" gradientUnits="userSpaceOnUse" x1="-291.2" y1="0" x2="329.3" y2="0"><stop offset="0.0000" stop-color="#ff7e00"/><stop offset="0.2346" stop-color="#ff7200"/><stop offset="0.2888" stop-color="#ff5e00"/><stop offset="0.3068" stop-color="#ff5400"/><stop offset="0.3429" stop-color="#ff4100"/><stop offset="0.3700" stop-color="#ff3500"/><stop offset="0.3881" stop-color="#ff3e00"/><stop offset="0.4061" stop-color="#ff5100"/><stop offset="0.4206" stop-color="#ff7d00"/><stop offset="0.4242" stop-color="#ffb000"/><stop offset="0.4301" stop-color="#ffff00"/><stop offset="0.4386" stop-color="#80ff80"/><stop offset="0.4476" stop-color="#00ffff"/><stop offset="0.4530" stop-color="#0080ff"/><stop offset="0.4585" stop-color="#0024ff"/><stop offset="0.4627" stop-color="#0000ff"/><stop offset="0.4639" stop-color="#0000f5"/><stop offset="0.4693" stop-color="#0000e6"/><stop offset="0.4754" stop-color="#0000f5"/><stop offset="0.4768" stop-color="#0000ff"/><stop offset="0.4815" stop-color="#0024ff"/><stop offset="0.4877" stop-color="#0080ff"/><stop offset="0.4938" stop-color="#00ffff"/><stop offset="0.5040" stop-color="#80ff80"/><stop offset="0.5142" stop-color="#ffff00"/><stop offset="0.5346" stop-color="#ff9e00"/><stop offset="0.5509" stop-color="#ff7a00"/><stop offset="0.5816" stop-color="#ff4c00"/><stop offset="0.6122" stop-color="#ff2400"/><stop offset="0.6530" stop-color="#ff0a00"/><stop offset="0.7158" stop-color="#ff0000"/><stop offset="0.7346" stop-color="#fc0000"/><stop offset="1.0000" stop-color="#fa0000"/></linearGradient><linearGradient id="gc21" gradientUnits="userSpaceOnUse" x1="-291.2" y1="0" x2="333.3" y2="0"><stop offset="0.0000" stop-color="#ff7e00"/><stop offset="0.2331" stop-color="#ff7200"/><stop offset="0.2869" stop-color="#ff5f00"/><stop offset="0.3049" stop-color="#ff5500"/><stop offset="0.3407" stop-color="#ff4300"/><stop offset="0.3676" stop-color="#ff3600"/><stop offset="0.3856" stop-color="#ff3f00"/><stop offset="0.4035" stop-color="#ff5200"/><stop offset="0.4179" stop-color="#ff7d00"/><stop offset="0.4214" stop-color="#ffb000"/><stop offset="0.4274" stop-color="#ffff00"/><stop offset="0.4358" stop-color="#80ff80"/><stop offset="0.4448" stop-color="#00ffff"/><stop offset="0.4501" stop-color="#0080ff"/><stop offset="0.4555" stop-color="#0024ff"/><stop offset="0.4597" stop-color="#0000ff"/><stop offset="0.4609" stop-color="#0000f5"/><stop offset="0.4663" stop-color="#0000e6"/><stop offset="0.4724" stop-color="#0000f5"/><stop offset="0.4738" stop-color="#0000ff"/><stop offset="0.4786" stop-color="#0024ff"/><stop offset="0.4848" stop-color="#0080ff"/><stop offset="0.4909" stop-color="#00ffff"/><stop offset="0.5012" stop-color="#80ff80"/><stop offset="0.5114" stop-color="#ffff00"/><stop offset="0.5320" stop-color="#ff9e00"/><stop offset="0.5484" stop-color="#ff7a00"/><stop offset="0.5792" stop-color="#ff4c00"/><stop offset="0.6100" stop-color="#ff2400"/><stop offset="0.6510" stop-color="#ff0a00"/><stop offset="0.7142" stop-color="#ff0000"/><stop offset="0.7331" stop-color="#fc0000"/><stop offset="1.0000" stop-color="#fa0000"/></linearGradient><linearGradient id="gc22" gradientUnits="userSpaceOnUse" x1="-291.2" y1="0" x2="337.3" y2="0"><stop offset="0.0000" stop-color="#ff7e00"/><stop offset="0.2317" stop-color="#ff7300"/><stop offset="0.2851" stop-color="#ff6000"/><stop offset="0.3029" stop-color="#ff5600"/><stop offset="0.3386" stop-color="#ff4400"/><stop offset="0.3653" stop-color="#ff3800"/><stop offset="0.3831" stop-color="#ff4000"/><stop offset="0.4009" stop-color="#ff5200"/><stop offset="0.4152" stop-color="#ff7e00"/><stop offset="0.4188" stop-color="#ffb000"/><stop offset="0.4246" stop-color="#ffff00"/><stop offset="0.4330" stop-color="#80ff80"/><stop offset="0.4419" stop-color="#00ffff"/><stop offset="0.4473" stop-color="#0080ff"/><stop offset="0.4526" stop-color="#0024ff"/><stop offset="0.4568" stop-color="#0000ff"/><stop offset="0.4580" stop-color="#0000f5"/><stop offset="0.4633" stop-color="#0000e6"/><stop offset="0.4695" stop-color="#0000f5"/><stop offset="0.4709" stop-color="#0000ff"/><stop offset="0.4757" stop-color="#0024ff"/><stop offset="0.4819" stop-color="#0080ff"/><stop offset="0.4881" stop-color="#00ffff"/><stop offset="0.4984" stop-color="#80ff80"/><stop offset="0.5087" stop-color="#ffff00"/><stop offset="0.5294" stop-color="#ff9e00"/><stop offset="0.5459" stop-color="#ff7a00"/><stop offset="0.5768" stop-color="#ff4c00"/><stop offset="0.6078" stop-color="#ff2400"/><stop offset="0.6491" stop-color="#ff0a00"/><stop offset="0.7126" stop-color="#ff0000"/><stop offset="0.7317" stop-color="#fc0000"/><stop offset="1.0000" stop-color="#fa0000"/></linearGradient><linearGradient id="gc23" gradientUnits="userSpaceOnUse" x1="-291.2" y1="0" x2="342.3" y2="0"><stop offset="0.0000" stop-color="#ff7e00"/><stop offset="0.2298" stop-color="#ff7300"/><stop offset="0.2829" stop-color="#ff6100"/><stop offset="0.3005" stop-color="#ff5700"/><stop offset="0.3359" stop-color="#ff4500"/><stop offset="0.3624" stop-color="#ff3900"/><stop offset="0.3801" stop-color="#ff4100"/><stop offset="0.3978" stop-color="#ff5300"/><stop offset="0.4119" stop-color="#ff7e00"/><stop offset="0.4154" stop-color="#ffb000"/><stop offset="0.4213" stop-color="#ffff00"/><stop offset="0.4296" stop-color="#80ff80"/><stop offset="0.4384" stop-color="#00ffff"/><stop offset="0.4437" stop-color="#0080ff"/><stop offset="0.4490" stop-color="#0024ff"/><stop offset="0.4532" stop-color="#0000ff"/><stop offset="0.4543" stop-color="#0000f5"/><stop offset="0.4596" stop-color="#0000e6"/><stop offset="0.4659" stop-color="#0000f5"/><stop offset="0.4673" stop-color="#0000ff"/><stop offset="0.4721" stop-color="#0024ff"/><stop offset="0.4783" stop-color="#0080ff"/><stop offset="0.4846" stop-color="#00ffff"/><stop offset="0.4950" stop-color="#80ff80"/><stop offset="0.5054" stop-color="#ffff00"/><stop offset="0.5261" stop-color="#ff9e00"/><stop offset="0.5428" stop-color="#ff7a00"/><stop offset="0.5740" stop-color="#ff4c00"/><stop offset="0.6051" stop-color="#ff2400"/><stop offset="0.6467" stop-color="#ff0a00"/><stop offset="0.7106" stop-color="#ff0000"/><stop offset="0.7298" stop-color="#fc0000"/><stop offset="1.0000" stop-color="#fa0000"/></linearGradient><linearGradient id="gc24" gradientUnits="userSpaceOnUse" x1="-291.2" y1="0" x2="347.5" y2="0"><stop offset="0.0000" stop-color="#ff7e00"/><stop offset="0.2280" stop-color="#ff7400"/><stop offset="0.2806" stop-color="#ff6200"/><stop offset="0.2981" stop-color="#ff5800"/><stop offset="0.3332" stop-color="#ff4700"/><stop offset="0.3595" stop-color="#ff3b00"/><stop offset="0.3770" stop-color="#ff4300"/><stop offset="0.3945" stop-color="#ff5400"/><stop offset="0.4086" stop-color="#ff7e00"/><stop offset="0.4121" stop-color="#ffb000"/><stop offset="0.4179" stop-color="#ffff00"/><stop offset="0.4261" stop-color="#80ff80"/><stop offset="0.4349" stop-color="#00ffff"/><stop offset="0.4401" stop-color="#0080ff"/><stop offset="0.4454" stop-color="#0024ff"/><stop offset="0.4495" stop-color="#0000ff"/><stop offset="0.4506" stop-color="#0000f5"/><stop offset="0.4559" stop-color="#0000e6"/><stop offset="0.4622" stop-color="#0000f5"/><stop offset="0.4636" stop-color="#0000ff"/><stop offset="0.4685" stop-color="#0024ff"/><stop offset="0.4747" stop-color="#0080ff"/><stop offset="0.4810" stop-color="#00ffff"/><stop offset="0.4915" stop-color="#80ff80"/><stop offset="0.5019" stop-color="#ffff00"/><stop offset="0.5229" stop-color="#ff9e00"/><stop offset="0.5396" stop-color="#ff7a00"/><stop offset="0.5710" stop-color="#ff4c00"/><stop offset="0.6024" stop-color="#ff2400"/><stop offset="0.6442" stop-color="#ff0a00"/><stop offset="0.7086" stop-color="#ff0000"/><stop offset="0.7280" stop-color="#fc0000"/><stop offset="1.0000" stop-color="#fa0000"/></linearGradient><linearGradient id="gc25" gradientUnits="userSpaceOnUse" x1="-291.2" y1="0" x2="352.7" y2="0"><stop offset="0.0000" stop-color="#ff7e00"/><stop offset="0.2261" stop-color="#ff7400"/><stop offset="0.2783" stop-color="#ff6200"/><stop offset="0.2957" stop-color="#ff5a00"/><stop offset="0.3305" stop-color="#ff4800"/><stop offset="0.3566" stop-color="#ff3c00"/><stop offset="0.3740" stop-color="#ff4400"/><stop offset="0.3913" stop-color="#ff5500"/><stop offset="0.4053" stop-color="#ff7e00"/><stop offset="0.4087" stop-color="#ffb000"/><stop offset="0.4145" stop-color="#ffff00"/><stop offset="0.4227" stop-color="#80ff80"/><stop offset="0.4313" stop-color="#00ffff"/><stop offset="0.4366" stop-color="#0080ff"/><stop offset="0.4418" stop-color="#0024ff"/><stop offset="0.4458" stop-color="#0000ff"/><stop offset="0.4470" stop-color="#0000f5"/><stop offset="0.4522" stop-color="#0000e6"/><stop offset="0.4585" stop-color="#0000f5"/><stop offset="0.4599" stop-color="#0000ff"/><stop offset="0.4649" stop-color="#0024ff"/><stop offset="0.4712" stop-color="#0080ff"/><stop offset="0.4775" stop-color="#00ffff"/><stop offset="0.4880" stop-color="#80ff80"/><stop offset="0.4986" stop-color="#ffff00"/><stop offset="0.5196" stop-color="#ff9e00"/><stop offset="0.5365" stop-color="#ff7a00"/><stop offset="0.5681" stop-color="#ff4c00"/><stop offset="0.5997" stop-color="#ff2400"/><stop offset="0.6418" stop-color="#ff0a00"/><stop offset="0.7067" stop-color="#ff0000"/><stop offset="0.7261" stop-color="#fc0000"/><stop offset="1.0000" stop-color="#fa0000"/></linearGradient><linearGradient id="gc26" gradientUnits="userSpaceOnUse" x1="-291.2" y1="0" x2="357.9" y2="0"><stop offset="0.0000" stop-color="#ff7f00"/><stop offset="0.2243" stop-color="#ff7500"/><stop offset="0.2761" stop-color="#ff6300"/><stop offset="0.2933" stop-color="#ff5b00"/><stop offset="0.3278" stop-color="#ff4900"/><stop offset="0.3537" stop-color="#ff3e00"/><stop offset="0.3710" stop-color="#ff4500"/><stop offset="0.3882" stop-color="#ff5600"/><stop offset="0.4020" stop-color="#ff7e00"/><stop offset="0.4055" stop-color="#ffb000"/><stop offset="0.4112" stop-color="#ffff00"/><stop offset="0.4193" stop-color="#80ff80"/><stop offset="0.4279" stop-color="#00ffff"/><stop offset="0.4331" stop-color="#0080ff"/><stop offset="0.4382" stop-color="#0024ff"/><stop offset="0.4423" stop-color="#0000ff"/><stop offset="0.4434" stop-color="#0000f5"/><stop offset="0.4486" stop-color="#0000e6"/><stop offset="0.4550" stop-color="#0000f5"/><stop offset="0.4564" stop-color="#0000ff"/><stop offset="0.4613" stop-color="#0024ff"/><stop offset="0.4677" stop-color="#0080ff"/><stop offset="0.4740" stop-color="#00ffff"/><stop offset="0.4847" stop-color="#80ff80"/><stop offset="0.4953" stop-color="#ffff00"/><stop offset="0.5165" stop-color="#ff9e00"/><stop offset="0.5334" stop-color="#ff7a00"/><stop offset="0.5652" stop-color="#ff4c00"/><stop offset="0.5971" stop-color="#ff2400"/><stop offset="0.6395" stop-color="#ff0a00"/><stop offset="0.7047" stop-color="#ff0000"/><stop offset="0.7243" stop-color="#fc0000"/><stop offset="1.0000" stop-color="#fa0000"/></linearGradient><linearGradient id="gc27" gradientUnits="userSpaceOnUse" x1="-291.2" y1="0" x2="363.1" y2="0"><stop offset="0.0000" stop-color="#ff7f00"/><stop offset="0.2225" stop-color="#ff7500"/><stop offset="0.2739" stop-color="#ff6400"/><stop offset="0.2910" stop-color="#ff5c00"/><stop offset="0.3252" stop-color="#ff4b00"/><stop offset="0.3509" stop-color="#ff3f00"/><stop offset="0.3680" stop-color="#ff4600"/><stop offset="0.3851" stop-color="#ff5700"/><stop offset="0.3988" stop-color="#ff7f00"/><stop offset="0.4022" stop-color="#ffb000"/><stop offset="0.4079" stop-color="#ffff00"/><stop offset="0.4159" stop-color="#80ff80"/><stop offset="0.4245" stop-color="#00ffff"/><stop offset="0.4296" stop-color="#0080ff"/><stop offset="0.4348" stop-color="#0024ff"/><stop offset="0.4388" stop-color="#0000ff"/><stop offset="0.4399" stop-color="#0000f5"/><stop offset="0.4450" stop-color="#0000e6"/><stop offset="0.4514" stop-color="#0000f5"/><stop offset="0.4529" stop-color="#0000ff"/><stop offset="0.4578" stop-color="#0024ff"/><stop offset="0.4642" stop-color="#0080ff"/><stop offset="0.4706" stop-color="#00ffff"/><stop offset="0.4813" stop-color="#80ff80"/><stop offset="0.4920" stop-color="#ffff00"/><stop offset="0.5133" stop-color="#ff9e00"/><stop offset="0.5304" stop-color="#ff7a00"/><stop offset="0.5624" stop-color="#ff4c00"/><stop offset="0.5944" stop-color="#ff2400"/><stop offset="0.6371" stop-color="#ff0a00"/><stop offset="0.7028" stop-color="#ff0000"/><stop offset="0.7225" stop-color="#fc0000"/><stop offset="1.0000" stop-color="#fa0000"/></linearGradient><linearGradient id="gc28" gradientUnits="userSpaceOnUse" x1="-291.2" y1="0" x2="368.3" y2="0"><stop offset="0.0000" stop-color="#ff7f00"/><stop offset="0.2208" stop-color="#ff7500"/><stop offset="0.2717" stop-color="#ff6500"/><stop offset="0.2887" stop-color="#ff5d00"/><stop offset="0.3227" stop-color="#ff4c00"/><stop offset="0.3481" stop-color="#ff4100"/><stop offset="0.3651" stop-color="#ff4700"/><stop offset="0.3821" stop-color="#ff5800"/><stop offset="0.3957" stop-color="#ff7f00"/><stop offset="0.3991" stop-color="#ffb000"/><stop offset="0.4047" stop-color="#ffff00"/><stop offset="0.4127" stop-color="#80ff80"/><stop offset="0.4211" stop-color="#00ffff"/><stop offset="0.4262" stop-color="#0080ff"/><stop offset="0.4313" stop-color="#0024ff"/><stop offset="0.4353" stop-color="#0000ff"/><stop offset="0.4364" stop-color="#0000f5"/><stop offset="0.4415" stop-color="#0000e6"/><stop offset="0.4480" stop-color="#0000f5"/><stop offset="0.4494" stop-color="#0000ff"/><stop offset="0.4544" stop-color="#0024ff"/><stop offset="0.4609" stop-color="#0080ff"/><stop offset="0.4673" stop-color="#00ffff"/><stop offset="0.4780" stop-color="#80ff80"/><stop offset="0.4888" stop-color="#ffff00"/><stop offset="0.5103" stop-color="#ff9e00"/><stop offset="0.5274" stop-color="#ff7a00"/><stop offset="0.5597" stop-color="#ff4c00"/><stop offset="0.5919" stop-color="#ff2400"/><stop offset="0.6348" stop-color="#ff0a00"/><stop offset="0.7009" stop-color="#ff0000"/><stop offset="0.7208" stop-color="#fc0000"/><stop offset="1.0000" stop-color="#fa0000"/></linearGradient><linearGradient id="gc29" gradientUnits="userSpaceOnUse" x1="-291.2" y1="0" x2="373.5" y2="0"><stop offset="0.0000" stop-color="#ff7f00"/><stop offset="0.2190" stop-color="#ff7600"/><stop offset="0.2696" stop-color="#ff6600"/><stop offset="0.2864" stop-color="#ff5e00"/><stop offset="0.3201" stop-color="#ff4d00"/><stop offset="0.3454" stop-color="#ff4300"/><stop offset="0.3623" stop-color="#ff4900"/><stop offset="0.3791" stop-color="#ff5900"/><stop offset="0.3926" stop-color="#ff7f00"/><stop offset="0.3959" stop-color="#ffb000"/><stop offset="0.4015" stop-color="#ffff00"/><stop offset="0.4094" stop-color="#80ff80"/><stop offset="0.4179" stop-color="#00ffff"/><stop offset="0.4229" stop-color="#0080ff"/><stop offset="0.4280" stop-color="#0024ff"/><stop offset="0.4319" stop-color="#0000ff"/><stop offset="0.4330" stop-color="#0000f5"/><stop offset="0.4381" stop-color="#0000e6"/><stop offset="0.4446" stop-color="#0000f5"/><stop offset="0.4460" stop-color="#0000ff"/><stop offset="0.4510" stop-color="#0024ff"/><stop offset="0.4575" stop-color="#0080ff"/><stop offset="0.4640" stop-color="#00ffff"/><stop offset="0.4748" stop-color="#80ff80"/><stop offset="0.4856" stop-color="#ffff00"/><stop offset="0.5072" stop-color="#ff9e00"/><stop offset="0.5245" stop-color="#ff7a00"/><stop offset="0.5569" stop-color="#ff4c00"/><stop offset="0.5894" stop-color="#ff2400"/><stop offset="0.6326" stop-color="#ff0a00"/><stop offset="0.6991" stop-color="#ff0000"/><stop offset="0.7190" stop-color="#fc0000"/><stop offset="1.0000" stop-color="#fa0000"/></linearGradient><linearGradient id="gc30" gradientUnits="userSpaceOnUse" x1="-291.2" y1="0" x2="378.7" y2="0"><stop offset="0.0000" stop-color="#ff7f00"/><stop offset="0.2173" stop-color="#ff7600"/><stop offset="0.2675" stop-color="#ff6700"/><stop offset="0.2842" stop-color="#ff5f00"/><stop offset="0.3176" stop-color="#ff4f00"/><stop offset="0.3427" stop-color="#ff4400"/><stop offset="0.3594" stop-color="#ff4a00"/><stop offset="0.3762" stop-color="#ff5a00"/><stop offset="0.3895" stop-color="#ff7f00"/><stop offset="0.3929" stop-color="#ffb000"/><stop offset="0.3984" stop-color="#ffff00"/><stop offset="0.4062" stop-color="#80ff80"/><stop offset="0.4146" stop-color="#00ffff"/><stop offset="0.4196" stop-color="#0080ff"/><stop offset="0.4246" stop-color="#0024ff"/><stop offset="0.4285" stop-color="#0000ff"/><stop offset="0.4297" stop-color="#0000f5"/><stop offset="0.4347" stop-color="#0000e6"/><stop offset="0.4412" stop-color="#0000f5"/><stop offset="0.4426" stop-color="#0000ff"/><stop offset="0.4477" stop-color="#0024ff"/><stop offset="0.4542" stop-color="#0080ff"/><stop offset="0.4608" stop-color="#00ffff"/><stop offset="0.4716" stop-color="#80ff80"/><stop offset="0.4825" stop-color="#ffff00"/><stop offset="0.5042" stop-color="#ff9e00"/><stop offset="0.5216" stop-color="#ff7a00"/><stop offset="0.5543" stop-color="#ff4c00"/><stop offset="0.5869" stop-color="#ff2400"/><stop offset="0.6304" stop-color="#ff0a00"/><stop offset="0.6973" stop-color="#ff0000"/><stop offset="0.7173" stop-color="#fc0000"/><stop offset="1.0000" stop-color="#fa0000"/></linearGradient><linearGradient id="gc31" gradientUnits="userSpaceOnUse" x1="-291.2" y1="0" x2="383.9" y2="0"><stop offset="0.0000" stop-color="#ff7f00"/><stop offset="0.2157" stop-color="#ff7700"/><stop offset="0.2654" stop-color="#ff6800"/><stop offset="0.2820" stop-color="#ff6000"/><stop offset="0.3152" stop-color="#ff5000"/><stop offset="0.3401" stop-color="#ff4600"/><stop offset="0.3567" stop-color="#ff4b00"/><stop offset="0.3733" stop-color="#ff5b00"/><stop offset="0.3865" stop-color="#ff7f00"/><stop offset="0.3898" stop-color="#ffb000"/><stop offset="0.3953" stop-color="#ffff00"/><stop offset="0.4031" stop-color="#80ff80"/><stop offset="0.4114" stop-color="#00ffff"/><stop offset="0.4164" stop-color="#0080ff"/><stop offset="0.4214" stop-color="#0024ff"/><stop offset="0.4252" stop-color="#0000ff"/><stop offset="0.4263" stop-color="#0000f5"/><stop offset="0.4313" stop-color="#0000e6"/><stop offset="0.4379" stop-color="#0000f5"/><stop offset="0.4393" stop-color="#0000ff"/><stop offset="0.4444" stop-color="#0024ff"/><stop offset="0.4510" stop-color="#0080ff"/><stop offset="0.4576" stop-color="#00ffff"/><stop offset="0.4685" stop-color="#80ff80"/><stop offset="0.4794" stop-color="#ffff00"/><stop offset="0.5013" stop-color="#ff9e00"/><stop offset="0.5188" stop-color="#ff7a00"/><stop offset="0.5516" stop-color="#ff4c00"/><stop offset="0.5844" stop-color="#ff2400"/><stop offset="0.6282" stop-color="#ff0a00"/><stop offset="0.6955" stop-color="#ff0000"/><stop offset="0.7157" stop-color="#fc0000"/><stop offset="1.0000" stop-color="#fa0000"/></linearGradient><linearGradient id="gc32" gradientUnits="userSpaceOnUse" x1="-291.2" y1="0" x2="389.1" y2="0"><stop offset="0.0000" stop-color="#ff7f00"/><stop offset="0.2140" stop-color="#ff7700"/><stop offset="0.2634" stop-color="#ff6900"/><stop offset="0.2799" stop-color="#ff6100"/><stop offset="0.3128" stop-color="#ff5100"/><stop offset="0.3375" stop-color="#ff4700"/><stop offset="0.3539" stop-color="#ff4c00"/><stop offset="0.3704" stop-color="#ff5c00"/><stop offset="0.3836" stop-color="#ff7f00"/><stop offset="0.3869" stop-color="#ffb000"/><stop offset="0.3923" stop-color="#ffff00"/><stop offset="0.4000" stop-color="#80ff80"/><stop offset="0.4083" stop-color="#00ffff"/><stop offset="0.4132" stop-color="#0080ff"/><stop offset="0.4181" stop-color="#0024ff"/><stop offset="0.4220" stop-color="#0000ff"/><stop offset="0.4231" stop-color="#0000f5"/><stop offset="0.4280" stop-color="#0000e6"/><stop offset="0.4346" stop-color="#0000f5"/><stop offset="0.4361" stop-color="#0000ff"/><stop offset="0.4412" stop-color="#0024ff"/><stop offset="0.4478" stop-color="#0080ff"/><stop offset="0.4544" stop-color="#00ffff"/><stop offset="0.4654" stop-color="#80ff80"/><stop offset="0.4764" stop-color="#ffff00"/><stop offset="0.4984" stop-color="#ff9e00"/><stop offset="0.5160" stop-color="#ff7a00"/><stop offset="0.5490" stop-color="#ff4c00"/><stop offset="0.5820" stop-color="#ff2400"/><stop offset="0.6260" stop-color="#ff0a00"/><stop offset="0.6937" stop-color="#ff0000"/><stop offset="0.7140" stop-color="#fc0000"/><stop offset="1.0000" stop-color="#fa0000"/></linearGradient><linearGradient id="gc33" gradientUnits="userSpaceOnUse" x1="-291.2" y1="0" x2="394.3" y2="0"><stop offset="0.0000" stop-color="#ff8000"/><stop offset="0.2124" stop-color="#ff7700"/><stop offset="0.2614" stop-color="#ff6900"/><stop offset="0.2777" stop-color="#ff6200"/><stop offset="0.3104" stop-color="#ff5200"/><stop offset="0.3349" stop-color="#ff4800"/><stop offset="0.3513" stop-color="#ff4d00"/><stop offset="0.3676" stop-color="#ff5c00"/><stop offset="0.3807" stop-color="#ff8000"/><stop offset="0.3839" stop-color="#ffb000"/><stop offset="0.3893" stop-color="#ffff00"/><stop offset="0.3970" stop-color="#80ff80"/><stop offset="0.4052" stop-color="#00ffff"/><stop offset="0.4101" stop-color="#0080ff"/><stop offset="0.4150" stop-color="#0024ff"/><stop offset="0.4188" stop-color="#0000ff"/><stop offset="0.4199" stop-color="#0000f5"/><stop offset="0.4248" stop-color="#0000e6"/><stop offset="0.4314" stop-color="#0000f5"/><stop offset="0.4329" stop-color="#0000ff"/><stop offset="0.4381" stop-color="#0024ff"/><stop offset="0.4447" stop-color="#0080ff"/><stop offset="0.4513" stop-color="#00ffff"/><stop offset="0.4624" stop-color="#80ff80"/><stop offset="0.4735" stop-color="#ffff00"/><stop offset="0.4956" stop-color="#ff9e00"/><stop offset="0.5133" stop-color="#ff7a00"/><stop offset="0.5465" stop-color="#ff4c00"/><stop offset="0.5796" stop-color="#ff2400"/><stop offset="0.6239" stop-color="#ff0a00"/><stop offset="0.6920" stop-color="#ff0000"/><stop offset="0.7124" stop-color="#fc0000"/><stop offset="1.0000" stop-color="#fa0000"/></linearGradient><linearGradient id="gc34" gradientUnits="userSpaceOnUse" x1="-291.2" y1="0" x2="399.5" y2="0"><stop offset="0.0000" stop-color="#ff8000"/><stop offset="0.2108" stop-color="#ff7800"/><stop offset="0.2594" stop-color="#ff6a00"/><stop offset="0.2756" stop-color="#ff6200"/><stop offset="0.3081" stop-color="#ff5200"/><stop offset="0.3324" stop-color="#ff4800"/><stop offset="0.3486" stop-color="#ff4d00"/><stop offset="0.3648" stop-color="#ff5c00"/><stop offset="0.3778" stop-color="#ff8000"/><stop offset="0.3810" stop-color="#ffb000"/><stop offset="0.3864" stop-color="#ffff00"/><stop offset="0.3940" stop-color="#80ff80"/><stop offset="0.4021" stop-color="#00ffff"/><stop offset="0.4070" stop-color="#0080ff"/><stop offset="0.4119" stop-color="#0024ff"/><stop offset="0.4156" stop-color="#0000ff"/><stop offset="0.4167" stop-color="#0000f5"/><stop offset="0.4216" stop-color="#0000e6"/><stop offset="0.4283" stop-color="#0000f5"/><stop offset="0.4297" stop-color="#0000ff"/><stop offset="0.4349" stop-color="#0024ff"/><stop offset="0.4416" stop-color="#0080ff"/><stop offset="0.4483" stop-color="#00ffff"/><stop offset="0.4594" stop-color="#80ff80"/><stop offset="0.4705" stop-color="#ffff00"/><stop offset="0.4928" stop-color="#ff9e00"/><stop offset="0.5106" stop-color="#ff7a00"/><stop offset="0.5439" stop-color="#ff4c00"/><stop offset="0.5773" stop-color="#ff2400"/><stop offset="0.6218" stop-color="#ff0a00"/><stop offset="0.6903" stop-color="#ff0000"/><stop offset="0.7108" stop-color="#fc0000"/><stop offset="1.0000" stop-color="#fa0000"/></linearGradient><linearGradient id="gc35" gradientUnits="userSpaceOnUse" x1="-291.2" y1="0" x2="404.7" y2="0"><stop offset="0.0000" stop-color="#ff8000"/><stop offset="0.2092" stop-color="#ff7800"/><stop offset="0.2575" stop-color="#ff6a00"/><stop offset="0.2736" stop-color="#ff6200"/><stop offset="0.3058" stop-color="#ff5300"/><stop offset="0.3299" stop-color="#ff4900"/><stop offset="0.3460" stop-color="#ff4e00"/><stop offset="0.3621" stop-color="#ff5d00"/><stop offset="0.3750" stop-color="#ff8000"/><stop offset="0.3782" stop-color="#ffb000"/><stop offset="0.3835" stop-color="#ffff00"/><stop offset="0.3911" stop-color="#80ff80"/><stop offset="0.3991" stop-color="#00ffff"/><stop offset="0.4039" stop-color="#0080ff"/><stop offset="0.4088" stop-color="#0024ff"/><stop offset="0.4125" stop-color="#0000ff"/><stop offset="0.4136" stop-color="#0000f5"/><stop offset="0.4184" stop-color="#0000e6"/><stop offset="0.4251" stop-color="#0000f5"/><stop offset="0.4266" stop-color="#0000ff"/><stop offset="0.4319" stop-color="#0024ff"/><stop offset="0.4386" stop-color="#0080ff"/><stop offset="0.4453" stop-color="#00ffff"/><stop offset="0.4565" stop-color="#80ff80"/><stop offset="0.4676" stop-color="#ffff00"/><stop offset="0.4900" stop-color="#ff9e00"/><stop offset="0.5079" stop-color="#ff7a00"/><stop offset="0.5415" stop-color="#ff4c00"/><stop offset="0.5750" stop-color="#ff2400"/><stop offset="0.6197" stop-color="#ff0a00"/><stop offset="0.6886" stop-color="#ff0000"/><stop offset="0.7092" stop-color="#fc0000"/><stop offset="1.0000" stop-color="#fa0000"/></linearGradient><linearGradient id="gc36" gradientUnits="userSpaceOnUse" x1="-291.2" y1="0" x2="409.9" y2="0"><stop offset="0.0000" stop-color="#ff8000"/><stop offset="0.2077" stop-color="#ff7800"/><stop offset="0.2556" stop-color="#ff6a00"/><stop offset="0.2716" stop-color="#ff6300"/><stop offset="0.3035" stop-color="#ff5300"/><stop offset="0.3275" stop-color="#ff4a00"/><stop offset="0.3434" stop-color="#ff4e00"/><stop offset="0.3594" stop-color="#ff5d00"/><stop offset="0.3722" stop-color="#ff8000"/><stop offset="0.3754" stop-color="#ffb000"/><stop offset="0.3807" stop-color="#ffff00"/><stop offset="0.3882" stop-color="#80ff80"/><stop offset="0.3962" stop-color="#00ffff"/><stop offset="0.4010" stop-color="#0080ff"/><stop offset="0.4057" stop-color="#0024ff"/><stop offset="0.4095" stop-color="#0000ff"/><stop offset="0.4105" stop-color="#0000f5"/><stop offset="0.4153" stop-color="#0000e6"/><stop offset="0.4221" stop-color="#0000f5"/><stop offset="0.4236" stop-color="#0000ff"/><stop offset="0.4288" stop-color="#0024ff"/><stop offset="0.4356" stop-color="#0080ff"/><stop offset="0.4423" stop-color="#00ffff"/><stop offset="0.4536" stop-color="#80ff80"/><stop offset="0.4648" stop-color="#ffff00"/><stop offset="0.4873" stop-color="#ff9e00"/><stop offset="0.5053" stop-color="#ff7a00"/><stop offset="0.5390" stop-color="#ff4c00"/><stop offset="0.5727" stop-color="#ff2400"/><stop offset="0.6177" stop-color="#ff0a00"/><stop offset="0.6869" stop-color="#ff0000"/><stop offset="0.7077" stop-color="#fc0000"/><stop offset="1.0000" stop-color="#fa0000"/></linearGradient><linearGradient id="gc37" gradientUnits="userSpaceOnUse" x1="-291.2" y1="0" x2="415.1" y2="0"><stop offset="0.0000" stop-color="#ff8000"/><stop offset="0.2061" stop-color="#ff7800"/><stop offset="0.2537" stop-color="#ff6b00"/><stop offset="0.2696" stop-color="#ff6300"/><stop offset="0.3013" stop-color="#ff5400"/><stop offset="0.3251" stop-color="#ff4a00"/><stop offset="0.3409" stop-color="#ff4f00"/><stop offset="0.3568" stop-color="#ff5d00"/><stop offset="0.3695" stop-color="#ff8000"/><stop offset="0.3726" stop-color="#ffb000"/><stop offset="0.3779" stop-color="#ffff00"/><stop offset="0.3853" stop-color="#80ff80"/><stop offset="0.3932" stop-color="#00ffff"/><stop offset="0.3980" stop-color="#0080ff"/><stop offset="0.4028" stop-color="#0024ff"/><stop offset="0.4065" stop-color="#0000ff"/><stop offset="0.4075" stop-color="#0000f5"/><stop offset="0.4123" stop-color="#0000e6"/><stop offset="0.4191" stop-color="#0000f5"/><stop offset="0.4206" stop-color="#0000ff"/><stop offset="0.4258" stop-color="#0024ff"/><stop offset="0.4326" stop-color="#0080ff"/><stop offset="0.4394" stop-color="#00ffff"/><stop offset="0.4507" stop-color="#80ff80"/><stop offset="0.4620" stop-color="#ffff00"/><stop offset="0.4846" stop-color="#ff9e00"/><stop offset="0.5027" stop-color="#ff7a00"/><stop offset="0.5366" stop-color="#ff4c00"/><stop offset="0.5705" stop-color="#ff2400"/><stop offset="0.6157" stop-color="#ff0a00"/><stop offset="0.6853" stop-color="#ff0000"/><stop offset="0.7061" stop-color="#fc0000"/><stop offset="1.0000" stop-color="#fa0000"/></linearGradient><linearGradient id="gc38" gradientUnits="userSpaceOnUse" x1="-291.2" y1="0" x2="413.5" y2="0"><stop offset="0.0000" stop-color="#ff8000"/><stop offset="0.2066" stop-color="#ff7800"/><stop offset="0.2543" stop-color="#ff6b00"/><stop offset="0.2702" stop-color="#ff6400"/><stop offset="0.3020" stop-color="#ff5400"/><stop offset="0.3258" stop-color="#ff4b00"/><stop offset="0.3417" stop-color="#ff4f00"/><stop offset="0.3576" stop-color="#ff5e00"/><stop offset="0.3703" stop-color="#ff8000"/><stop offset="0.3735" stop-color="#ffb000"/><stop offset="0.3787" stop-color="#ffff00"/><stop offset="0.3862" stop-color="#80ff80"/><stop offset="0.3942" stop-color="#00ffff"/><stop offset="0.3989" stop-color="#0080ff"/><stop offset="0.4037" stop-color="#0024ff"/><stop offset="0.4074" stop-color="#0000ff"/><stop offset="0.4085" stop-color="#0000f5"/><stop offset="0.4132" stop-color="#0000e6"/><stop offset="0.4200" stop-color="#0000f5"/><stop offset="0.4215" stop-color="#0000ff"/><stop offset="0.4268" stop-color="#0024ff"/><stop offset="0.4335" stop-color="#0080ff"/><stop offset="0.4403" stop-color="#00ffff"/><stop offset="0.4516" stop-color="#80ff80"/><stop offset="0.4629" stop-color="#ffff00"/><stop offset="0.4854" stop-color="#ff9e00"/><stop offset="0.5035" stop-color="#ff7a00"/><stop offset="0.5374" stop-color="#ff4c00"/><stop offset="0.5712" stop-color="#ff2400"/><stop offset="0.6163" stop-color="#ff0a00"/><stop offset="0.6858" stop-color="#ff0000"/><stop offset="0.7066" stop-color="#fc0000"/><stop offset="1.0000" stop-color="#fa0000"/></linearGradient><linearGradient id="gc39" gradientUnits="userSpaceOnUse" x1="-291.2" y1="0" x2="410.5" y2="0"><stop offset="0.0000" stop-color="#ff8000"/><stop offset="0.2075" stop-color="#ff7800"/><stop offset="0.2554" stop-color="#ff6b00"/><stop offset="0.2713" stop-color="#ff6400"/><stop offset="0.3033" stop-color="#ff5500"/><stop offset="0.3272" stop-color="#ff4b00"/><stop offset="0.3432" stop-color="#ff5000"/><stop offset="0.3591" stop-color="#ff5e00"/><stop offset="0.3719" stop-color="#ff8000"/><stop offset="0.3751" stop-color="#ffb000"/><stop offset="0.3804" stop-color="#ffff00"/><stop offset="0.3879" stop-color="#80ff80"/><stop offset="0.3958" stop-color="#00ffff"/><stop offset="0.4006" stop-color="#0080ff"/><stop offset="0.4054" stop-color="#0024ff"/><stop offset="0.4091" stop-color="#0000ff"/><stop offset="0.4102" stop-color="#0000f5"/><stop offset="0.4150" stop-color="#0000e6"/><stop offset="0.4217" stop-color="#0000f5"/><stop offset="0.4232" stop-color="#0000ff"/><stop offset="0.4285" stop-color="#0024ff"/><stop offset="0.4352" stop-color="#0080ff"/><stop offset="0.4420" stop-color="#00ffff"/><stop offset="0.4532" stop-color="#80ff80"/><stop offset="0.4645" stop-color="#ffff00"/><stop offset="0.4870" stop-color="#ff9e00"/><stop offset="0.5050" stop-color="#ff7a00"/><stop offset="0.5387" stop-color="#ff4c00"/><stop offset="0.5725" stop-color="#ff2400"/><stop offset="0.6175" stop-color="#ff0a00"/><stop offset="0.6867" stop-color="#ff0000"/><stop offset="0.7075" stop-color="#fc0000"/><stop offset="1.0000" stop-color="#fa0000"/></linearGradient><linearGradient id="gc40" gradientUnits="userSpaceOnUse" x1="-291.2" y1="0" x2="407.5" y2="0"><stop offset="0.0000" stop-color="#ff8000"/><stop offset="0.2084" stop-color="#ff7900"/><stop offset="0.2565" stop-color="#ff6c00"/><stop offset="0.2725" stop-color="#ff6400"/><stop offset="0.3046" stop-color="#ff5500"/><stop offset="0.3286" stop-color="#ff4c00"/><stop offset="0.3446" stop-color="#ff5000"/><stop offset="0.3607" stop-color="#ff5e00"/><stop offset="0.3735" stop-color="#ff8000"/><stop offset="0.3767" stop-color="#ffb000"/><stop offset="0.3820" stop-color="#ffff00"/><stop offset="0.3895" stop-color="#80ff80"/><stop offset="0.3975" stop-color="#00ffff"/><stop offset="0.4023" stop-color="#0080ff"/><stop offset="0.4072" stop-color="#0024ff"/><stop offset="0.4109" stop-color="#0000ff"/><stop offset="0.4120" stop-color="#0000f5"/><stop offset="0.4168" stop-color="#0000e6"/><stop offset="0.4235" stop-color="#0000f5"/><stop offset="0.4250" stop-color="#0000ff"/><stop offset="0.4302" stop-color="#0024ff"/><stop offset="0.4370" stop-color="#0080ff"/><stop offset="0.4437" stop-color="#00ffff"/><stop offset="0.4549" stop-color="#80ff80"/><stop offset="0.4661" stop-color="#ffff00"/><stop offset="0.4886" stop-color="#ff9e00"/><stop offset="0.5065" stop-color="#ff7a00"/><stop offset="0.5401" stop-color="#ff4c00"/><stop offset="0.5738" stop-color="#ff2400"/><stop offset="0.6187" stop-color="#ff0a00"/><stop offset="0.6877" stop-color="#ff0000"/><stop offset="0.7084" stop-color="#fc0000"/><stop offset="1.0000" stop-color="#fa0000"/></linearGradient><linearGradient id="gc41" gradientUnits="userSpaceOnUse" x1="-291.2" y1="0" x2="404.5" y2="0"><stop offset="0.0000" stop-color="#ff8000"/><stop offset="0.2093" stop-color="#ff7900"/><stop offset="0.2576" stop-color="#ff6c00"/><stop offset="0.2737" stop-color="#ff6500"/><stop offset="0.3059" stop-color="#ff5600"/><stop offset="0.3300" stop-color="#ff4c00"/><stop offset="0.3461" stop-color="#ff5000"/><stop offset="0.3622" stop-color="#ff5f00"/><stop offset="0.3751" stop-color="#ff8000"/><stop offset="0.3783" stop-color="#ffb000"/><stop offset="0.3836" stop-color="#ffff00"/><stop offset="0.3912" stop-color="#80ff80"/><stop offset="0.3993" stop-color="#00ffff"/><stop offset="0.4041" stop-color="#0080ff"/><stop offset="0.4089" stop-color="#0024ff"/><stop offset="0.4127" stop-color="#0000ff"/><stop offset="0.4137" stop-color="#0000f5"/><stop offset="0.4186" stop-color="#0000e6"/><stop offset="0.4253" stop-color="#0000f5"/><stop offset="0.4268" stop-color="#0000ff"/><stop offset="0.4320" stop-color="#0024ff"/><stop offset="0.4387" stop-color="#0080ff"/><stop offset="0.4454" stop-color="#00ffff"/><stop offset="0.4566" stop-color="#80ff80"/><stop offset="0.4678" stop-color="#ffff00"/><stop offset="0.4901" stop-color="#ff9e00"/><stop offset="0.5080" stop-color="#ff7a00"/><stop offset="0.5416" stop-color="#ff4c00"/><stop offset="0.5751" stop-color="#ff2400"/><stop offset="0.6198" stop-color="#ff0a00"/><stop offset="0.6886" stop-color="#ff0000"/><stop offset="0.7093" stop-color="#fc0000"/><stop offset="1.0000" stop-color="#fa0000"/></linearGradient><linearGradient id="gc42" gradientUnits="userSpaceOnUse" x1="-291.2" y1="0" x2="401.5" y2="0"><stop offset="0.0000" stop-color="#ff8000"/><stop offset="0.2102" stop-color="#ff7900"/><stop offset="0.2587" stop-color="#ff6c00"/><stop offset="0.2749" stop-color="#ff6500"/><stop offset="0.3072" stop-color="#ff5600"/><stop offset="0.3315" stop-color="#ff4d00"/><stop offset="0.3476" stop-color="#ff5100"/><stop offset="0.3638" stop-color="#ff5f00"/><stop offset="0.3767" stop-color="#ff8000"/><stop offset="0.3800" stop-color="#ffb000"/><stop offset="0.3853" stop-color="#ffff00"/><stop offset="0.3929" stop-color="#80ff80"/><stop offset="0.4010" stop-color="#00ffff"/><stop offset="0.4058" stop-color="#0080ff"/><stop offset="0.4107" stop-color="#0024ff"/><stop offset="0.4145" stop-color="#0000ff"/><stop offset="0.4155" stop-color="#0000f5"/><stop offset="0.4204" stop-color="#0000e6"/><stop offset="0.4271" stop-color="#0000f5"/><stop offset="0.4286" stop-color="#0000ff"/><stop offset="0.4338" stop-color="#0024ff"/><stop offset="0.4404" stop-color="#0080ff"/><stop offset="0.4471" stop-color="#00ffff"/><stop offset="0.4583" stop-color="#80ff80"/><stop offset="0.4694" stop-color="#ffff00"/><stop offset="0.4917" stop-color="#ff9e00"/><stop offset="0.5096" stop-color="#ff7a00"/><stop offset="0.5430" stop-color="#ff4c00"/><stop offset="0.5764" stop-color="#ff2400"/><stop offset="0.6210" stop-color="#ff0a00"/><stop offset="0.6896" stop-color="#ff0000"/><stop offset="0.7102" stop-color="#fc0000"/><stop offset="1.0000" stop-color="#fa0000"/></linearGradient><linearGradient id="gc43" gradientUnits="userSpaceOnUse" x1="-291.2" y1="0" x2="398.5" y2="0"><stop offset="0.0000" stop-color="#ff8000"/><stop offset="0.2111" stop-color="#ff7900"/><stop offset="0.2598" stop-color="#ff6d00"/><stop offset="0.2761" stop-color="#ff6500"/><stop offset="0.3085" stop-color="#ff5700"/><stop offset="0.3329" stop-color="#ff4d00"/><stop offset="0.3491" stop-color="#ff5100"/><stop offset="0.3654" stop-color="#ff5f00"/><stop offset="0.3784" stop-color="#ff8000"/><stop offset="0.3816" stop-color="#ffb000"/><stop offset="0.3870" stop-color="#ffff00"/><stop offset="0.3946" stop-color="#80ff80"/><stop offset="0.4027" stop-color="#00ffff"/><stop offset="0.4076" stop-color="#0080ff"/><stop offset="0.4125" stop-color="#0024ff"/><stop offset="0.4163" stop-color="#0000ff"/><stop offset="0.4173" stop-color="#0000f5"/><stop offset="0.4222" stop-color="#0000e6"/><stop offset="0.4289" stop-color="#0000f5"/><stop offset="0.4304" stop-color="#0000ff"/><stop offset="0.4355" stop-color="#0024ff"/><stop offset="0.4422" stop-color="#0080ff"/><stop offset="0.4489" stop-color="#00ffff"/><stop offset="0.4600" stop-color="#80ff80"/><stop offset="0.4711" stop-color="#ffff00"/><stop offset="0.4933" stop-color="#ff9e00"/><stop offset="0.5111" stop-color="#ff7a00"/><stop offset="0.5444" stop-color="#ff4c00"/><stop offset="0.5778" stop-color="#ff2400"/><stop offset="0.6222" stop-color="#ff0a00"/><stop offset="0.6906" stop-color="#ff0000"/><stop offset="0.7111" stop-color="#fc0000"/><stop offset="1.0000" stop-color="#fa0000"/></linearGradient><linearGradient id="gc44" gradientUnits="userSpaceOnUse" x1="-291.2" y1="0" x2="395.5" y2="0"><stop offset="0.0000" stop-color="#ff8000"/><stop offset="0.2120" stop-color="#ff7900"/><stop offset="0.2610" stop-color="#ff6d00"/><stop offset="0.2773" stop-color="#ff6600"/><stop offset="0.3099" stop-color="#ff5700"/><stop offset="0.3344" stop-color="#ff4e00"/><stop offset="0.3507" stop-color="#ff5200"/><stop offset="0.3670" stop-color="#ff6000"/><stop offset="0.3800" stop-color="#ff8000"/><stop offset="0.3833" stop-color="#ffb000"/><stop offset="0.3887" stop-color="#ffff00"/><stop offset="0.3963" stop-color="#80ff80"/><stop offset="0.4045" stop-color="#00ffff"/><stop offset="0.4094" stop-color="#0080ff"/><stop offset="0.4143" stop-color="#0024ff"/><stop offset="0.4181" stop-color="#0000ff"/><stop offset="0.4192" stop-color="#0000f5"/><stop offset="0.4241" stop-color="#0000e6"/><stop offset="0.4307" stop-color="#0000f5"/><stop offset="0.4322" stop-color="#0000ff"/><stop offset="0.4373" stop-color="#0024ff"/><stop offset="0.4440" stop-color="#0080ff"/><stop offset="0.4506" stop-color="#00ffff"/><stop offset="0.4617" stop-color="#80ff80"/><stop offset="0.4728" stop-color="#ffff00"/><stop offset="0.4949" stop-color="#ff9e00"/><stop offset="0.5127" stop-color="#ff7a00"/><stop offset="0.5459" stop-color="#ff4c00"/><stop offset="0.5791" stop-color="#ff2400"/><stop offset="0.6234" stop-color="#ff0a00"/><stop offset="0.6916" stop-color="#ff0000"/><stop offset="0.7120" stop-color="#fc0000"/><stop offset="1.0000" stop-color="#fa0000"/></linearGradient><linearGradient id="gc45" gradientUnits="userSpaceOnUse" x1="-291.2" y1="0" x2="392.5" y2="0"><stop offset="0.0000" stop-color="#ff8000"/><stop offset="0.2130" stop-color="#ff7900"/><stop offset="0.2621" stop-color="#ff6d00"/><stop offset="0.2785" stop-color="#ff6600"/><stop offset="0.3112" stop-color="#ff5800"/><stop offset="0.3358" stop-color="#ff4f00"/><stop offset="0.3522" stop-color="#ff5200"/><stop offset="0.3686" stop-color="#ff6000"/><stop offset="0.3817" stop-color="#ff8000"/><stop offset="0.3850" stop-color="#ffb000"/><stop offset="0.3904" stop-color="#ffff00"/><stop offset="0.3981" stop-color="#80ff80"/><stop offset="0.4063" stop-color="#00ffff"/><stop offset="0.4112" stop-color="#0080ff"/><stop offset="0.4161" stop-color="#0024ff"/><stop offset="0.4199" stop-color="#0000ff"/><stop offset="0.4210" stop-color="#0000f5"/><stop offset="0.4259" stop-color="#0000e6"/><stop offset="0.4325" stop-color="#0000f5"/><stop offset="0.4340" stop-color="#0000ff"/><stop offset="0.4392" stop-color="#0024ff"/><stop offset="0.4458" stop-color="#0080ff"/><stop offset="0.4524" stop-color="#00ffff"/><stop offset="0.4635" stop-color="#80ff80"/><stop offset="0.4745" stop-color="#ffff00"/><stop offset="0.4966" stop-color="#ff9e00"/><stop offset="0.5142" stop-color="#ff7a00"/><stop offset="0.5474" stop-color="#ff4c00"/><stop offset="0.5805" stop-color="#ff2400"/><stop offset="0.6246" stop-color="#ff0a00"/><stop offset="0.6926" stop-color="#ff0000"/><stop offset="0.7130" stop-color="#fc0000"/><stop offset="1.0000" stop-color="#fa0000"/></linearGradient><linearGradient id="gc46" gradientUnits="userSpaceOnUse" x1="-291.2" y1="0" x2="389.6" y2="0"><stop offset="0.0000" stop-color="#ff8000"/><stop offset="0.2139" stop-color="#ff7a00"/><stop offset="0.2632" stop-color="#ff6e00"/><stop offset="0.2797" stop-color="#ff6700"/><stop offset="0.3126" stop-color="#ff5800"/><stop offset="0.3373" stop-color="#ff4f00"/><stop offset="0.3537" stop-color="#ff5300"/><stop offset="0.3702" stop-color="#ff6000"/><stop offset="0.3833" stop-color="#ff8000"/><stop offset="0.3866" stop-color="#ffb000"/><stop offset="0.3921" stop-color="#ffff00"/><stop offset="0.3998" stop-color="#80ff80"/><stop offset="0.4080" stop-color="#00ffff"/><stop offset="0.4129" stop-color="#0080ff"/><stop offset="0.4179" stop-color="#0024ff"/><stop offset="0.4217" stop-color="#0000ff"/><stop offset="0.4228" stop-color="#0000f5"/><stop offset="0.4278" stop-color="#0000e6"/><stop offset="0.4344" stop-color="#0000f5"/><stop offset="0.4358" stop-color="#0000ff"/><stop offset="0.4410" stop-color="#0024ff"/><stop offset="0.4476" stop-color="#0080ff"/><stop offset="0.4542" stop-color="#00ffff"/><stop offset="0.4652" stop-color="#80ff80"/><stop offset="0.4762" stop-color="#ffff00"/><stop offset="0.4982" stop-color="#ff9e00"/><stop offset="0.5158" stop-color="#ff7a00"/><stop offset="0.5488" stop-color="#ff4c00"/><stop offset="0.5818" stop-color="#ff2400"/><stop offset="0.6258" stop-color="#ff0a00"/><stop offset="0.6936" stop-color="#ff0000"/><stop offset="0.7139" stop-color="#fc0000"/><stop offset="1.0000" stop-color="#fa0000"/></linearGradient><linearGradient id="gc47" gradientUnits="userSpaceOnUse" x1="-291.2" y1="0" x2="387.0" y2="0"><stop offset="0.0000" stop-color="#ff8000"/><stop offset="0.2147" stop-color="#ff7a00"/><stop offset="0.2642" stop-color="#ff6e00"/><stop offset="0.2808" stop-color="#ff6700"/><stop offset="0.3138" stop-color="#ff5900"/><stop offset="0.3386" stop-color="#ff5000"/><stop offset="0.3551" stop-color="#ff5300"/><stop offset="0.3716" stop-color="#ff6100"/><stop offset="0.3848" stop-color="#ff8000"/><stop offset="0.3881" stop-color="#ffb000"/><stop offset="0.3936" stop-color="#ffff00"/><stop offset="0.4013" stop-color="#80ff80"/><stop offset="0.4096" stop-color="#00ffff"/><stop offset="0.4145" stop-color="#0080ff"/><stop offset="0.4195" stop-color="#0024ff"/><stop offset="0.4233" stop-color="#0000ff"/><stop offset="0.4244" stop-color="#0000f5"/><stop offset="0.4294" stop-color="#0000e6"/><stop offset="0.4360" stop-color="#0000f5"/><stop offset="0.4374" stop-color="#0000ff"/><stop offset="0.4426" stop-color="#0024ff"/><stop offset="0.4491" stop-color="#0080ff"/><stop offset="0.4557" stop-color="#00ffff"/><stop offset="0.4667" stop-color="#80ff80"/><stop offset="0.4777" stop-color="#ffff00"/><stop offset="0.4996" stop-color="#ff9e00"/><stop offset="0.5172" stop-color="#ff7a00"/><stop offset="0.5501" stop-color="#ff4c00"/><stop offset="0.5830" stop-color="#ff2400"/><stop offset="0.6269" stop-color="#ff0a00"/><stop offset="0.6944" stop-color="#ff0000"/><stop offset="0.7147" stop-color="#fc0000"/><stop offset="1.0000" stop-color="#fa0000"/></linearGradient><linearGradient id="gc48" gradientUnits="userSpaceOnUse" x1="-291.2" y1="0" x2="384.4" y2="0"><stop offset="0.0000" stop-color="#ff8000"/><stop offset="0.2155" stop-color="#ff7a00"/><stop offset="0.2653" stop-color="#ff6e00"/><stop offset="0.2818" stop-color="#ff6700"/><stop offset="0.3150" stop-color="#ff5900"/><stop offset="0.3399" stop-color="#ff5000"/><stop offset="0.3564" stop-color="#ff5400"/><stop offset="0.3730" stop-color="#ff6100"/><stop offset="0.3863" stop-color="#ff8100"/><stop offset="0.3896" stop-color="#ffb000"/><stop offset="0.3951" stop-color="#ffff00"/><stop offset="0.4029" stop-color="#80ff80"/><stop offset="0.4112" stop-color="#00ffff"/><stop offset="0.4161" stop-color="#0080ff"/><stop offset="0.4211" stop-color="#0024ff"/><stop offset="0.4250" stop-color="#0000ff"/><stop offset="0.4261" stop-color="#0000f5"/><stop offset="0.4310" stop-color="#0000e6"/><stop offset="0.4376" stop-color="#0000f5"/><stop offset="0.4391" stop-color="#0000ff"/><stop offset="0.4442" stop-color="#0024ff"/><stop offset="0.4507" stop-color="#0080ff"/><stop offset="0.4573" stop-color="#00ffff"/><stop offset="0.4682" stop-color="#80ff80"/><stop offset="0.4792" stop-color="#ffff00"/><stop offset="0.5011" stop-color="#ff9e00"/><stop offset="0.5186" stop-color="#ff7a00"/><stop offset="0.5514" stop-color="#ff4c00"/><stop offset="0.5842" stop-color="#ff2400"/><stop offset="0.6280" stop-color="#ff0a00"/><stop offset="0.6953" stop-color="#ff0000"/><stop offset="0.7155" stop-color="#fc0000"/><stop offset="1.0000" stop-color="#fa0000"/></linearGradient><linearGradient id="gc49" gradientUnits="userSpaceOnUse" x1="-291.2" y1="0" x2="381.8" y2="0"><stop offset="0.0000" stop-color="#ff8000"/><stop offset="0.2164" stop-color="#ff7a00"/><stop offset="0.2663" stop-color="#ff6f00"/><stop offset="0.2829" stop-color="#ff6800"/><stop offset="0.3162" stop-color="#ff5a00"/><stop offset="0.3412" stop-color="#ff5100"/><stop offset="0.3578" stop-color="#ff5400"/><stop offset="0.3745" stop-color="#ff6100"/><stop offset="0.3878" stop-color="#ff8100"/><stop offset="0.3911" stop-color="#ffb000"/><stop offset="0.3966" stop-color="#ffff00"/><stop offset="0.4044" stop-color="#80ff80"/><stop offset="0.4127" stop-color="#00ffff"/><stop offset="0.4177" stop-color="#0080ff"/><stop offset="0.4227" stop-color="#0024ff"/><stop offset="0.4266" stop-color="#0000ff"/><stop offset="0.4277" stop-color="#0000f5"/><stop offset="0.4327" stop-color="#0000e6"/><stop offset="0.4393" stop-color="#0000f5"/><stop offset="0.4407" stop-color="#0000ff"/><stop offset="0.4458" stop-color="#0024ff"/><stop offset="0.4523" stop-color="#0080ff"/><stop offset="0.4589" stop-color="#00ffff"/><stop offset="0.4698" stop-color="#80ff80"/><stop offset="0.4807" stop-color="#ffff00"/><stop offset="0.5025" stop-color="#ff9e00"/><stop offset="0.5200" stop-color="#ff7a00"/><stop offset="0.5527" stop-color="#ff4c00"/><stop offset="0.5854" stop-color="#ff2400"/><stop offset="0.6291" stop-color="#ff0a00"/><stop offset="0.6962" stop-color="#ff0000"/><stop offset="0.7164" stop-color="#fc0000"/><stop offset="1.0000" stop-color="#fa0000"/></linearGradient><linearGradient id="gc50" gradientUnits="userSpaceOnUse" x1="-291.2" y1="0" x2="379.2" y2="0"><stop offset="0.0000" stop-color="#ff8000"/><stop offset="0.2172" stop-color="#ff7a00"/><stop offset="0.2673" stop-color="#ff6f00"/><stop offset="0.2840" stop-color="#ff6800"/><stop offset="0.3174" stop-color="#ff5a00"/><stop offset="0.3425" stop-color="#ff5100"/><stop offset="0.3592" stop-color="#ff5400"/><stop offset="0.3759" stop-color="#ff6200"/><stop offset="0.3893" stop-color="#ff8100"/><stop offset="0.3926" stop-color="#ffb000"/><stop offset="0.3981" stop-color="#ffff00"/><stop offset="0.4060" stop-color="#80ff80"/><stop offset="0.4143" stop-color="#00ffff"/><stop offset="0.4194" stop-color="#0080ff"/><stop offset="0.4244" stop-color="#0024ff"/><stop offset="0.4283" stop-color="#0000ff"/><stop offset="0.4294" stop-color="#0000f5"/><stop offset="0.4344" stop-color="#0000e6"/><stop offset="0.4409" stop-color="#0000f5"/><stop offset="0.4424" stop-color="#0000ff"/><stop offset="0.4474" stop-color="#0024ff"/><stop offset="0.4540" stop-color="#0080ff"/><stop offset="0.4605" stop-color="#00ffff"/><stop offset="0.4714" stop-color="#80ff80"/><stop offset="0.4822" stop-color="#ffff00"/><stop offset="0.5040" stop-color="#ff9e00"/><stop offset="0.5214" stop-color="#ff7a00"/><stop offset="0.5540" stop-color="#ff4c00"/><stop offset="0.5867" stop-color="#ff2400"/><stop offset="0.6302" stop-color="#ff0a00"/><stop offset="0.6971" stop-color="#ff0000"/><stop offset="0.7172" stop-color="#fc0000"/><stop offset="1.0000" stop-color="#fa0000"/></linearGradient><linearGradient id="gc51" gradientUnits="userSpaceOnUse" x1="-291.2" y1="0" x2="377.0" y2="0"><stop offset="0.0000" stop-color="#ff8100"/><stop offset="0.2179" stop-color="#ff7a00"/><stop offset="0.2682" stop-color="#ff6f00"/><stop offset="0.2849" stop-color="#ff6800"/><stop offset="0.3185" stop-color="#ff5a00"/><stop offset="0.3436" stop-color="#ff5200"/><stop offset="0.3604" stop-color="#ff5500"/><stop offset="0.3771" stop-color="#ff6200"/><stop offset="0.3905" stop-color="#ff8100"/><stop offset="0.3939" stop-color="#ffb000"/><stop offset="0.3994" stop-color="#ffff00"/><stop offset="0.4073" stop-color="#80ff80"/><stop offset="0.4157" stop-color="#00ffff"/><stop offset="0.4207" stop-color="#0080ff"/><stop offset="0.4257" stop-color="#0024ff"/><stop offset="0.4297" stop-color="#0000ff"/><stop offset="0.4308" stop-color="#0000f5"/><stop offset="0.4358" stop-color="#0000e6"/><stop offset="0.4423" stop-color="#0000f5"/><stop offset="0.4438" stop-color="#0000ff"/><stop offset="0.4488" stop-color="#0024ff"/><stop offset="0.4553" stop-color="#0080ff"/><stop offset="0.4618" stop-color="#00ffff"/><stop offset="0.4727" stop-color="#80ff80"/><stop offset="0.4835" stop-color="#ffff00"/><stop offset="0.5052" stop-color="#ff9e00"/><stop offset="0.5226" stop-color="#ff7a00"/><stop offset="0.5551" stop-color="#ff4c00"/><stop offset="0.5877" stop-color="#ff2400"/><stop offset="0.6311" stop-color="#ff0a00"/><stop offset="0.6979" stop-color="#ff0000"/><stop offset="0.7179" stop-color="#fc0000"/><stop offset="1.0000" stop-color="#fa0000"/></linearGradient><linearGradient id="fL" x1="0" y1="0" x2="1" y2="0"><stop offset="0" stop-color="#ffd800" stop-opacity="0"/><stop offset="1" stop-color="#ffd800" stop-opacity="0.9"/></linearGradient><linearGradient id="fB" gradientUnits="userSpaceOnUse" x1="0" y1="12.9" x2="0" y2="165.6"><stop offset="0" stop-color="#0030e0" stop-opacity="0.15"/><stop offset="0.3" stop-color="#0030e0" stop-opacity="0.7"/><stop offset="1" stop-color="#0030e0" stop-opacity="0.7"/></linearGradient><linearGradient id="cbC" x1="0" y1="0" x2="0" y2="1"><stop offset="0.000" stop-color="#800000"/><stop offset="0.025" stop-color="#990000"/><stop offset="0.050" stop-color="#b30000"/><stop offset="0.075" stop-color="#cc0000"/><stop offset="0.100" stop-color="#e50000"/><stop offset="0.125" stop-color="#ff0000"/><stop offset="0.150" stop-color="#ff1a00"/><stop offset="0.175" stop-color="#ff3300"/><stop offset="0.200" stop-color="#ff4c00"/><stop offset="0.225" stop-color="#ff6600"/><stop offset="0.250" stop-color="#ff8000"/><stop offset="0.275" stop-color="#ff9900"/><stop offset="0.300" stop-color="#ffb300"/><stop offset="0.325" stop-color="#ffcc00"/><stop offset="0.350" stop-color="#ffe500"/><stop offset="0.375" stop-color="#ffff00"/><stop offset="0.400" stop-color="#e5ff1a"/><stop offset="0.425" stop-color="#ccff33"/><stop offset="0.450" stop-color="#b3ff4c"/><stop offset="0.475" stop-color="#99ff66"/><stop offset="0.500" stop-color="#80ff80"/><stop offset="0.525" stop-color="#66ff99"/><stop offset="0.550" stop-color="#4cffb3"/><stop offset="0.575" stop-color="#33ffcc"/><stop offset="0.600" stop-color="#1affe5"/><stop offset="0.625" stop-color="#00ffff"/><stop offset="0.650" stop-color="#00e5ff"/><stop offset="0.675" stop-color="#00ccff"/><stop offset="0.700" stop-color="#00b3ff"/><stop offset="0.725" stop-color="#0099ff"/><stop offset="0.750" stop-color="#0080ff"/><stop offset="0.775" stop-color="#0066ff"/><stop offset="0.800" stop-color="#004cff"/><stop offset="0.825" stop-color="#0033ff"/><stop offset="0.850" stop-color="#001aff"/><stop offset="0.875" stop-color="#0000ff"/><stop offset="0.900" stop-color="#0000e5"/><stop offset="0.925" stop-color="#0000cc"/><stop offset="0.950" stop-color="#0000b3"/><stop offset="0.975" stop-color="#000099"/><stop offset="1.000" stop-color="#000080"/></linearGradient></defs><rect width="550" height="396" fill="#ffffff"/><polyline points="49.50,56.35 241.00,107.59" fill="none" stroke="#f03030" stroke-width="1.1"/>
<polyline points="49.50,150.90 241.00,28.90" fill="none" stroke="#202020" stroke-width="1.0"/>
<rect x="49.5" y="13.6" width="191.5" height="153.20000000000002" fill="none" stroke="#2b2b2b" stroke-width="1.1"/>
<line x1="49.50" y1="166.80" x2="49.50" y2="163.30" stroke="#2b2b2b" stroke-width="1.0" />
<line x1="49.50" y1="13.60" x2="49.50" y2="17.10" stroke="#2b2b2b" stroke-width="1.0" />
<text x="49.50" y="178.60" font-size="11.0" text-anchor="middle" font-family="'Liberation Sans', Arial, sans-serif" fill="#141414" stroke="#141414" stroke-width="0.22" >12.8</text>
<line x1="73.44" y1="166.80" x2="73.44" y2="164.80" stroke="#2b2b2b" stroke-width="1.0" />
<line x1="73.44" y1="13.60" x2="73.44" y2="15.60" stroke="#2b2b2b" stroke-width="1.0" />
<line x1="97.37" y1="166.80" x2="97.37" y2="163.30" stroke="#2b2b2b" stroke-width="1.0" />
<line x1="97.37" y1="13.60" x2="97.37" y2="17.10" stroke="#2b2b2b" stroke-width="1.0" />
<text x="97.37" y="178.60" font-size="11.0" text-anchor="middle" font-family="'Liberation Sans', Arial, sans-serif" fill="#141414" stroke="#141414" stroke-width="0.22" >13.0</text>
<line x1="121.31" y1="166.80" x2="121.31" y2="164.80" stroke="#2b2b2b" stroke-width="1.0" />
<line x1="121.31" y1="13.60" x2="121.31" y2="15.60" stroke="#2b2b2b" stroke-width="1.0" />
<line x1="145.25" y1="166.80" x2="145.25" y2="163.30" stroke="#2b2b2b" stroke-width="1.0" />
<line x1="145.25" y1="13.60" x2="145.25" y2="17.10" stroke="#2b2b2b" stroke-width="1.0" />
<text x="145.25" y="178.60" font-size="11.0" text-anchor="middle" font-family="'Liberation Sans', Arial, sans-serif" fill="#141414" stroke="#141414" stroke-width="0.22" >13.2</text>
<line x1="169.19" y1="166.80" x2="169.19" y2="164.80" stroke="#2b2b2b" stroke-width="1.0" />
<line x1="169.19" y1="13.60" x2="169.19" y2="15.60" stroke="#2b2b2b" stroke-width="1.0" />
<line x1="193.12" y1="166.80" x2="193.12" y2="163.30" stroke="#2b2b2b" stroke-width="1.0" />
<line x1="193.12" y1="13.60" x2="193.12" y2="17.10" stroke="#2b2b2b" stroke-width="1.0" />
<text x="193.12" y="178.60" font-size="11.0" text-anchor="middle" font-family="'Liberation Sans', Arial, sans-serif" fill="#141414" stroke="#141414" stroke-width="0.22" >13.4</text>
<line x1="217.06" y1="166.80" x2="217.06" y2="164.80" stroke="#2b2b2b" stroke-width="1.0" />
<line x1="217.06" y1="13.60" x2="217.06" y2="15.60" stroke="#2b2b2b" stroke-width="1.0" />
<line x1="241.00" y1="166.80" x2="241.00" y2="163.30" stroke="#2b2b2b" stroke-width="1.0" />
<line x1="241.00" y1="13.60" x2="241.00" y2="17.10" stroke="#2b2b2b" stroke-width="1.0" />
<text x="241.00" y="178.60" font-size="11.0" text-anchor="middle" font-family="'Liberation Sans', Arial, sans-serif" fill="#141414" stroke="#141414" stroke-width="0.22" >13.6</text>
<line x1="49.50" y1="166.15" x2="51.50" y2="166.15" stroke="#2b2b2b" stroke-width="1.0" />
<line x1="241.00" y1="166.15" x2="239.00" y2="166.15" stroke="#2b2b2b" stroke-width="1.0" />
<line x1="49.50" y1="150.90" x2="53.00" y2="150.90" stroke="#2b2b2b" stroke-width="1.0" />
<line x1="241.00" y1="150.90" x2="237.50" y2="150.90" stroke="#2b2b2b" stroke-width="1.0" />
<text x="46.60" y="154.80" font-size="11.0" text-anchor="end" font-family="'Liberation Sans', Arial, sans-serif" fill="#141414" stroke="#141414" stroke-width="0.22" >3.20</text>
<line x1="49.50" y1="135.65" x2="51.50" y2="135.65" stroke="#2b2b2b" stroke-width="1.0" />
<line x1="241.00" y1="135.65" x2="239.00" y2="135.65" stroke="#2b2b2b" stroke-width="1.0" />
<line x1="49.50" y1="120.40" x2="53.00" y2="120.40" stroke="#2b2b2b" stroke-width="1.0" />
<line x1="241.00" y1="120.40" x2="237.50" y2="120.40" stroke="#2b2b2b" stroke-width="1.0" />
<text x="46.60" y="124.30" font-size="11.0" text-anchor="end" font-family="'Liberation Sans', Arial, sans-serif" fill="#141414" stroke="#141414" stroke-width="0.22" >3.25</text>
<line x1="49.50" y1="105.15" x2="51.50" y2="105.15" stroke="#2b2b2b" stroke-width="1.0" />
<line x1="241.00" y1="105.15" x2="239.00" y2="105.15" stroke="#2b2b2b" stroke-width="1.0" />
<line x1="49.50" y1="89.90" x2="53.00" y2="89.90" stroke="#2b2b2b" stroke-width="1.0" />
<line x1="241.00" y1="89.90" x2="237.50" y2="89.90" stroke="#2b2b2b" stroke-width="1.0" />
<text x="46.60" y="93.80" font-size="11.0" text-anchor="end" font-family="'Liberation Sans', Arial, sans-serif" fill="#141414" stroke="#141414" stroke-width="0.22" >3.30</text>
<line x1="49.50" y1="74.65" x2="51.50" y2="74.65" stroke="#2b2b2b" stroke-width="1.0" />
<line x1="241.00" y1="74.65" x2="239.00" y2="74.65" stroke="#2b2b2b" stroke-width="1.0" />
<line x1="49.50" y1="59.40" x2="53.00" y2="59.40" stroke="#2b2b2b" stroke-width="1.0" />
<line x1="241.00" y1="59.40" x2="237.50" y2="59.40" stroke="#2b2b2b" stroke-width="1.0" />
<text x="46.60" y="63.30" font-size="11.0" text-anchor="end" font-family="'Liberation Sans', Arial, sans-serif" fill="#141414" stroke="#141414" stroke-width="0.22" >3.35</text>
<line x1="49.50" y1="44.15" x2="51.50" y2="44.15" stroke="#2b2b2b" stroke-width="1.0" />
<line x1="241.00" y1="44.15" x2="239.00" y2="44.15" stroke="#2b2b2b" stroke-width="1.0" />
<line x1="49.50" y1="28.90" x2="53.00" y2="28.90" stroke="#2b2b2b" stroke-width="1.0" />
<line x1="241.00" y1="28.90" x2="237.50" y2="28.90" stroke="#2b2b2b" stroke-width="1.0" />
<text x="46.60" y="32.80" font-size="11.0" text-anchor="end" font-family="'Liberation Sans', Arial, sans-serif" fill="#141414" stroke="#141414" stroke-width="0.22" >3.40</text>
<line x1="49.50" y1="13.65" x2="51.50" y2="13.65" stroke="#2b2b2b" stroke-width="1.0" />
<line x1="241.00" y1="13.65" x2="239.00" y2="13.65" stroke="#2b2b2b" stroke-width="1.0" />
<text x="145.20" y="190.60" font-size="11.2" text-anchor="middle" font-family="'Liberation Sans', Arial, sans-serif" fill="#141414" stroke="#141414" stroke-width="0.22" >Wavelength (<tspan font-family="Liberation Serif, serif">μ</tspan>m)</text>
<text transform="translate(20.7,97.3) rotate(-90)" font-size="11.3" text-anchor="middle" font-family="'Liberation Sans', Arial, sans-serif" fill="#141414">Effective refractive index</text>
<text x="6.60" y="17.00" font-size="14.5" text-anchor="start" font-family="'Liberation Serif', 'Times New Roman', serif" fill="#141414" stroke="#141414" stroke-width="0.3" >(a)</text>
<line x1="59.60" y1="26.80" x2="76.70" y2="26.80" stroke="#202020" stroke-width="1.0" />
<line x1="59.60" y1="38.10" x2="76.70" y2="38.10" stroke="#f03030" stroke-width="1.1" />
<text x="78.20" y="30.40" font-size="9.1" text-anchor="start" font-family="'Liberation Sans', Arial, sans-serif" fill="#141414" stroke="#141414" stroke-width="0.22" >Momentum matching condition</text>
<text x="78.20" y="41.20" font-size="9.4" text-anchor="start" font-family="'Liberation Sans', Arial, sans-serif" fill="#141414" stroke="#141414" stroke-width="0.22" >PWG</text>
<line x1="153.60" y1="69.40" x2="153.60" y2="91.00" stroke="#1f6fd0" stroke-width="1.8" />
<polygon points="151.4,90.3 155.8,90.3 153.6,95.7" fill="#1f6fd0"/>
<text x="150.4" y="107.0" font-size="10.65" font-family="'Liberation Serif', 'Times New Roman', serif" fill="#141414" stroke="#141414" stroke-width="0.25"><tspan font-style="italic">λ</tspan>=13.24 μm</text>
<g clip-path="url(#cB)"><rect transform="translate(178.5,205.1) skewX(-27.149)" x="-200" y="-5" width="400" height="162.4" fill="url(#gB)"/></g>
<circle cx="153.9" cy="205.80" r="1.55" fill="#0a0a0a"/>
<circle cx="153.9" cy="212.40" r="1.55" fill="#0a0a0a"/>
<circle cx="153.9" cy="219.00" r="1.55" fill="#0a0a0a"/>
<circle cx="153.9" cy="225.60" r="1.55" fill="#0a0a0a"/>
<circle cx="153.9" cy="232.20" r="1.55" fill="#0a0a0a"/>
<circle cx="153.9" cy="238.80" r="1.55" fill="#0a0a0a"/>
<circle cx="153.9" cy="245.40" r="1.55" fill="#0a0a0a"/>
<circle cx="153.9" cy="252.00" r="1.55" fill="#0a0a0a"/>
<circle cx="153.9" cy="258.60" r="1.55" fill="#0a0a0a"/>
<circle cx="153.9" cy="265.20" r="1.55" fill="#0a0a0a"/>
<circle cx="153.9" cy="271.80" r="1.55" fill="#0a0a0a"/>
<circle cx="153.9" cy="278.40" r="1.55" fill="#0a0a0a"/>
<circle cx="153.9" cy="285.00" r="1.55" fill="#0a0a0a"/>
<circle cx="153.9" cy="291.60" r="1.55" fill="#0a0a0a"/>
<circle cx="153.9" cy="298.20" r="1.55" fill="#0a0a0a"/>
<circle cx="153.9" cy="304.80" r="1.55" fill="#0a0a0a"/>
<circle cx="153.9" cy="311.40" r="1.55" fill="#0a0a0a"/>
<circle cx="153.9" cy="318.00" r="1.55" fill="#0a0a0a"/>
<circle cx="153.9" cy="324.60" r="1.55" fill="#0a0a0a"/>
<circle cx="153.9" cy="331.20" r="1.55" fill="#0a0a0a"/>
<circle cx="153.9" cy="337.80" r="1.55" fill="#0a0a0a"/>
<circle cx="153.9" cy="344.40" r="1.55" fill="#0a0a0a"/>
<circle cx="153.9" cy="351.00" r="1.55" fill="#0a0a0a"/>
<circle cx="153.9" cy="357.60" r="1.55" fill="#0a0a0a"/>
<text x="69.2" y="267.0" font-size="11.7" font-family="'Liberation Serif', 'Times New Roman', serif" fill="#0a0a0a" stroke="#0a0a0a" stroke-width="0.3">GSPR</text>
<line x1="106.00" y1="264.10" x2="122.50" y2="264.10" stroke="#111" stroke-width="1.3" />
<polygon points="101.5,264.1 106.5,261.8 106.5,266.4" fill="#111"/>
<line x1="159.60" y1="335.00" x2="170.00" y2="335.00" stroke="#111" stroke-width="1.3" />
<polygon points="174.2,335 169.2,332.7 169.2,337.3" fill="#111"/>
<text x="176.8" y="339.6" font-size="11.7" font-family="'Liberation Serif', 'Times New Roman', serif" fill="#0a0a0a" stroke="#0a0a0a" stroke-width="0.3">PWG</text>
<text x="49.60" y="373.60" font-size="11.0" text-anchor="middle" font-family="'Liberation Sans', Arial, sans-serif" fill="#141414" stroke="#141414" stroke-width="0.22" >12.8</text>
<text x="97.72" y="373.60" font-size="11.0" text-anchor="middle" font-family="'Liberation Sans', Arial, sans-serif" fill="#141414" stroke="#141414" stroke-width="0.22" >13.0</text>
<text x="145.85" y="373.60" font-size="11.0" text-anchor="middle" font-family="'Liberation Sans', Arial, sans-serif" fill="#141414" stroke="#141414" stroke-width="0.22" >13.2</text>
<text x="193.97" y="373.60" font-size="11.0" text-anchor="middle" font-family="'Liberation Sans', Arial, sans-serif" fill="#141414" stroke="#141414" stroke-width="0.22" >13.4</text>
<text x="242.10" y="373.60" font-size="11.0" text-anchor="middle" font-family="'Liberation Sans', Arial, sans-serif" fill="#141414" stroke="#141414" stroke-width="0.22" >13.6</text>
<text x="45.40" y="208.40" font-size="11.0" text-anchor="end" font-family="'Liberation Sans', Arial, sans-serif" fill="#141414" stroke="#141414" stroke-width="0.22" >2.04</text>
<text x="45.40" y="238.88" font-size="11.0" text-anchor="end" font-family="'Liberation Sans', Arial, sans-serif" fill="#141414" stroke="#141414" stroke-width="0.22" >2.02</text>
<text x="45.40" y="269.36" font-size="11.0" text-anchor="end" font-family="'Liberation Sans', Arial, sans-serif" fill="#141414" stroke="#141414" stroke-width="0.22" >2.00</text>
<text x="45.40" y="299.84" font-size="11.0" text-anchor="end" font-family="'Liberation Sans', Arial, sans-serif" fill="#141414" stroke="#141414" stroke-width="0.22" >1.98</text>
<text x="45.40" y="330.32" font-size="11.0" text-anchor="end" font-family="'Liberation Sans', Arial, sans-serif" fill="#141414" stroke="#141414" stroke-width="0.22" >1.96</text>
<text x="45.40" y="360.80" font-size="11.0" text-anchor="end" font-family="'Liberation Sans', Arial, sans-serif" fill="#141414" stroke="#141414" stroke-width="0.22" >1.94</text>
<text x="147.20" y="386.60" font-size="11.2" text-anchor="middle" font-family="'Liberation Sans', Arial, sans-serif" fill="#141414" stroke="#141414" stroke-width="0.22" >Wavelength (<tspan font-family="Liberation Serif, serif">μ</tspan>m)</text>
<text transform="translate(14.6,277.2) rotate(-90)" font-size="11.6" textLength="34.5" lengthAdjust="spacing" text-anchor="middle" font-family="'Liberation Serif', 'Times New Roman', serif" fill="#141414">Δ (<tspan font-style="italic">μm</tspan>)</text>
<text x="5.60" y="203.90" font-size="14.0" text-anchor="start" font-family="'Liberation Serif', 'Times New Roman', serif" fill="#141414" stroke="#141414" stroke-width="0.3" >(b)</text>
<rect x="246.6" y="204.4" width="9.599999999999994" height="157.20000000000002" fill="url(#cbB)"/>
<text x="258.20" y="348.03" font-size="11.0" text-anchor="start" font-family="'Liberation Sans', Arial, sans-serif" fill="#141414" stroke="#141414" stroke-width="0.22" >0.5</text>
<text x="258.20" y="318.92" font-size="11.0" text-anchor="start" font-family="'Liberation Sans', Arial, sans-serif" fill="#141414" stroke="#141414" stroke-width="0.22" >0.6</text>
<text x="258.20" y="289.81" font-size="11.0" text-anchor="start" font-family="'Liberation Sans', Arial, sans-serif" fill="#141414" stroke="#141414" stroke-width="0.22" >0.7</text>
<text x="258.20" y="260.70" font-size="11.0" text-anchor="start" font-family="'Liberation Sans', Arial, sans-serif" fill="#141414" stroke="#141414" stroke-width="0.22" >0.8</text>
<text x="258.20" y="231.59" font-size="11.0" text-anchor="start" font-family="'Liberation Sans', Arial, sans-serif" fill="#141414" stroke="#141414" stroke-width="0.22" >0.9</text>
<rect x="246.85" y="204.65" width="9.099999999999994" height="156.70000000000002" fill="none" stroke="#3a3a3a" stroke-opacity="0.45" stroke-width="0.5"/>
<line x1="254.00" y1="358.69" x2="256.20" y2="358.69" stroke="#222" stroke-width="0.8" stroke-opacity="0.55"/>
<line x1="254.00" y1="344.13" x2="256.20" y2="344.13" stroke="#222" stroke-width="0.8" stroke-opacity="0.55"/>
<line x1="254.00" y1="329.58" x2="256.20" y2="329.58" stroke="#222" stroke-width="0.8" stroke-opacity="0.55"/>
<line x1="254.00" y1="315.02" x2="256.20" y2="315.02" stroke="#222" stroke-width="0.8" stroke-opacity="0.55"/>
<line x1="254.00" y1="300.47" x2="256.20" y2="300.47" stroke="#222" stroke-width="0.8" stroke-opacity="0.55"/>
<line x1="254.00" y1="285.91" x2="256.20" y2="285.91" stroke="#222" stroke-width="0.8" stroke-opacity="0.55"/>
<line x1="254.00" y1="271.36" x2="256.20" y2="271.36" stroke="#222" stroke-width="0.8" stroke-opacity="0.55"/>
<line x1="254.00" y1="256.80" x2="256.20" y2="256.80" stroke="#222" stroke-width="0.8" stroke-opacity="0.55"/>
<line x1="254.00" y1="242.24" x2="256.20" y2="242.24" stroke="#222" stroke-width="0.8" stroke-opacity="0.55"/>
<line x1="254.00" y1="227.69" x2="256.20" y2="227.69" stroke="#222" stroke-width="0.8" stroke-opacity="0.55"/>
<line x1="254.00" y1="213.13" x2="256.20" y2="213.13" stroke="#222" stroke-width="0.8" stroke-opacity="0.55"/>
<g clip-path="url(#cC)">
<rect transform="translate(456.78,13.5) skewX(-28.46)" x="-291.2" y="-1.8" width="582.4" height="3.6" fill="url(#gc0)"/>
<rect transform="translate(455.10,16.5) skewX(-28.46)" x="-291.2" y="-1.8" width="582.4" height="3.6" fill="url(#gc1)"/>
<rect transform="translate(453.41,19.5) skewX(-28.46)" x="-291.2" y="-1.8" width="582.4" height="3.6" fill="url(#gc2)"/>
<rect transform="translate(451.73,22.5) skewX(-28.46)" x="-291.2" y="-1.8" width="582.4" height="3.6" fill="url(#gc3)"/>
<rect transform="translate(450.05,25.5) skewX(-28.46)" x="-291.2" y="-1.8" width="582.4" height="3.6" fill="url(#gc4)"/>
<rect transform="translate(448.37,28.5) skewX(-28.46)" x="-291.2" y="-1.8" width="582.4" height="3.6" fill="url(#gc5)"/>
<rect transform="translate(446.69,31.5) skewX(-28.46)" x="-291.2" y="-1.8" width="582.4" height="3.6" fill="url(#gc6)"/>
<rect transform="translate(445.01,34.5) skewX(-28.46)" x="-291.2" y="-1.8" width="582.4" height="3.6" fill="url(#gc7)"/>
<rect transform="translate(443.32,37.5) skewX(-28.46)" x="-291.2" y="-1.8" width="582.4" height="3.6" fill="url(#gc8)"/>
<rect transform="translate(441.64,40.5) skewX(-28.46)" x="-291.2" y="-1.8" width="582.4" height="3.6" fill="url(#gc9)"/>
<rect transform="translate(439.91,43.5) skewX(-28.46)" x="-291.2" y="-1.8" width="582.4" height="3.6" fill="url(#gc10)"/>
<rect transform="translate(438.18,46.5) skewX(-28.46)" x="-291.2" y="-1.8" width="584.4" height="3.6" fill="url(#gc11)"/>
<rect transform="translate(436.46,49.5) skewX(-28.46)" x="-291.2" y="-1.8" width="588.4" height="3.6" fill="url(#gc12)"/>
<rect transform="translate(434.73,52.5) skewX(-28.46)" x="-291.2" y="-1.8" width="592.4" height="3.6" fill="url(#gc13)"/>
<rect transform="translate(433.01,55.5) skewX(-28.46)" x="-291.2" y="-1.8" width="596.4" height="3.6" fill="url(#gc14)"/>
<rect transform="translate(431.28,58.5) skewX(-28.46)" x="-291.2" y="-1.8" width="600.5" height="3.6" fill="url(#gc15)"/>
<rect transform="translate(429.55,61.5) skewX(-28.46)" x="-291.2" y="-1.8" width="604.5" height="3.6" fill="url(#gc16)"/>
<rect transform="translate(427.83,64.5) skewX(-28.46)" x="-291.2" y="-1.8" width="608.5" height="3.6" fill="url(#gc17)"/>
<rect transform="translate(426.10,67.5) skewX(-28.46)" x="-291.2" y="-1.8" width="612.5" height="3.6" fill="url(#gc18)"/>
<rect transform="translate(424.39,70.5) skewX(-28.46)" x="-291.2" y="-1.8" width="616.5" height="3.6" fill="url(#gc19)"/>
<rect transform="translate(422.77,73.5) skewX(-28.46)" x="-291.2" y="-1.8" width="620.5" height="3.6" fill="url(#gc20)"/>
<rect transform="translate(421.14,76.5) skewX(-28.46)" x="-291.2" y="-1.8" width="624.5" height="3.6" fill="url(#gc21)"/>
<rect transform="translate(419.51,79.5) skewX(-28.46)" x="-291.2" y="-1.8" width="628.5" height="3.6" fill="url(#gc22)"/>
<rect transform="translate(417.89,82.5) skewX(-28.46)" x="-291.2" y="-1.8" width="633.5" height="3.6" fill="url(#gc23)"/>
<rect transform="translate(416.26,85.5) skewX(-28.46)" x="-291.2" y="-1.8" width="638.7" height="3.6" fill="url(#gc24)"/>
<rect transform="translate(414.64,88.5) skewX(-28.46)" x="-291.2" y="-1.8" width="643.9" height="3.6" fill="url(#gc25)"/>
<rect transform="translate(413.01,91.5) skewX(-28.46)" x="-291.2" y="-1.8" width="649.1" height="3.6" fill="url(#gc26)"/>
<rect transform="translate(411.38,94.5) skewX(-28.46)" x="-291.2" y="-1.8" width="654.3" height="3.6" fill="url(#gc27)"/>
<rect transform="translate(409.76,97.5) skewX(-28.46)" x="-291.2" y="-1.8" width="659.5" height="3.6" fill="url(#gc28)"/>
<rect transform="translate(408.13,100.5) skewX(-28.46)" x="-291.2" y="-1.8" width="664.7" height="3.6" fill="url(#gc29)"/>
<rect transform="translate(406.51,103.5) skewX(-28.46)" x="-291.2" y="-1.8" width="669.9" height="3.6" fill="url(#gc30)"/>
<rect transform="translate(404.88,106.5) skewX(-28.46)" x="-291.2" y="-1.8" width="675.1" height="3.6" fill="url(#gc31)"/>
<rect transform="translate(403.25,109.5) skewX(-28.46)" x="-291.2" y="-1.8" width="680.3" height="3.6" fill="url(#gc32)"/>
<rect transform="translate(401.63,112.5) skewX(-28.46)" x="-291.2" y="-1.8" width="685.5" height="3.6" fill="url(#gc33)"/>
<rect transform="translate(400.00,115.5) skewX(-28.46)" x="-291.2" y="-1.8" width="690.7" height="3.6" fill="url(#gc34)"/>
<rect transform="translate(398.38,118.5) skewX(-28.46)" x="-291.2" y="-1.8" width="695.9" height="3.6" fill="url(#gc35)"/>
<rect transform="translate(396.75,121.5) skewX(-28.46)" x="-291.2" y="-1.8" width="701.1" height="3.6" fill="url(#gc36)"/>
<rect transform="translate(395.12,124.5) skewX(-28.46)" x="-291.2" y="-1.8" width="706.3" height="3.6" fill="url(#gc37)"/>
<rect transform="translate(393.50,127.5) skewX(-28.46)" x="-291.2" y="-1.8" width="704.7" height="3.6" fill="url(#gc38)"/>
<rect transform="translate(391.87,130.5) skewX(-28.46)" x="-291.2" y="-1.8" width="701.7" height="3.6" fill="url(#gc39)"/>
<rect transform="translate(390.25,133.5) skewX(-28.46)" x="-291.2" y="-1.8" width="698.7" height="3.6" fill="url(#gc40)"/>
<rect transform="translate(388.62,136.5) skewX(-28.46)" x="-291.2" y="-1.8" width="695.7" height="3.6" fill="url(#gc41)"/>
<rect transform="translate(386.99,139.5) skewX(-28.46)" x="-291.2" y="-1.8" width="692.7" height="3.6" fill="url(#gc42)"/>
<rect transform="translate(385.37,142.5) skewX(-28.46)" x="-291.2" y="-1.8" width="689.7" height="3.6" fill="url(#gc43)"/>
<rect transform="translate(383.74,145.5) skewX(-28.46)" x="-291.2" y="-1.8" width="686.7" height="3.6" fill="url(#gc44)"/>
<rect transform="translate(382.12,148.5) skewX(-28.46)" x="-291.2" y="-1.8" width="683.7" height="3.6" fill="url(#gc45)"/>
<rect transform="translate(380.49,151.5) skewX(-28.46)" x="-291.2" y="-1.8" width="680.8" height="3.6" fill="url(#gc46)"/>
<rect transform="translate(378.86,154.5) skewX(-28.46)" x="-291.2" y="-1.8" width="678.2" height="3.6" fill="url(#gc47)"/>
<rect transform="translate(377.24,157.5) skewX(-28.46)" x="-291.2" y="-1.8" width="675.6" height="3.6" fill="url(#gc48)"/>
<rect transform="translate(375.61,160.5) skewX(-28.46)" x="-291.2" y="-1.8" width="673.0" height="3.6" fill="url(#gc49)"/>
<rect transform="translate(373.99,163.5) skewX(-28.46)" x="-291.2" y="-1.8" width="670.4" height="3.6" fill="url(#gc50)"/>
<rect transform="translate(372.36,166.5) skewX(-28.46)" x="-291.2" y="-1.8" width="668.2" height="3.6" fill="url(#gc51)"/>
<rect x="417.3" y="12.9" width="1.0" height="152.7" fill="url(#fL)"/>
<rect x="418.3" y="12.9" width="1.2" height="152.7" fill="#ffd800" opacity="0.9"/>
<rect x="419.5" y="12.9" width="1.2" height="152.7" fill="#ff1800"/>
<rect x="420.7" y="12.9" width="0.8" height="152.7" fill="url(#fB)"/>
</g>
<line x1="315.80" y1="105.00" x2="507.60" y2="105.00" stroke="#0a0a0a" stroke-width="1.8" stroke-dasharray="6.8 4.7"/>
<text x="320.9" y="97.4" font-size="12.2" font-family="'Liberation Serif', 'Times New Roman', serif" fill="#1c0600" stroke="#1c0600" stroke-width="0.25">Δ = 1.98 μm</text>
<text x="316.70" y="180.30" font-size="11.0" text-anchor="middle" font-family="'Liberation Sans', Arial, sans-serif" fill="#141414" stroke="#141414" stroke-width="0.22" >12.8</text>
<text x="364.67" y="180.30" font-size="11.0" text-anchor="middle" font-family="'Liberation Sans', Arial, sans-serif" fill="#141414" stroke="#141414" stroke-width="0.22" >13.0</text>
<text x="412.65" y="180.30" font-size="11.0" text-anchor="middle" font-family="'Liberation Sans', Arial, sans-serif" fill="#141414" stroke="#141414" stroke-width="0.22" >13.2</text>
<text x="460.62" y="180.30" font-size="11.0" text-anchor="middle" font-family="'Liberation Sans', Arial, sans-serif" fill="#141414" stroke="#141414" stroke-width="0.22" >13.4</text>
<text x="508.60" y="180.30" font-size="11.0" text-anchor="middle" font-family="'Liberation Sans', Arial, sans-serif" fill="#141414" stroke="#141414" stroke-width="0.22" >13.6</text>
<text x="306.20" y="16.80" font-size="11.0" text-anchor="end" font-family="'Liberation Sans', Arial, sans-serif" fill="#141414" stroke="#141414" stroke-width="0.22" >2.04</text>
<text x="306.20" y="47.34" font-size="11.0" text-anchor="end" font-family="'Liberation Sans', Arial, sans-serif" fill="#141414" stroke="#141414" stroke-width="0.22" >2.02</text>
<text x="306.20" y="77.88" font-size="11.0" text-anchor="end" font-family="'Liberation Sans', Arial, sans-serif" fill="#141414" stroke="#141414" stroke-width="0.22" >2.00</text>
<text x="306.20" y="108.42" font-size="11.0" text-anchor="end" font-family="'Liberation Sans', Arial, sans-serif" fill="#141414" stroke="#141414" stroke-width="0.22" >1.98</text>
<text x="306.20" y="138.96" font-size="11.0" text-anchor="end" font-family="'Liberation Sans', Arial, sans-serif" fill="#141414" stroke="#141414" stroke-width="0.22" >1.96</text>
<text x="306.20" y="169.50" font-size="11.0" text-anchor="end" font-family="'Liberation Sans', Arial, sans-serif" fill="#141414" stroke="#141414" stroke-width="0.22" >1.94</text>
<text x="411.80" y="191.60" font-size="11.2" text-anchor="middle" font-family="'Liberation Sans', Arial, sans-serif" fill="#141414" stroke="#141414" stroke-width="0.22" >Wavelength (<tspan font-family="Liberation Serif, serif">μ</tspan>m)</text>
<text transform="translate(275.9,88.5) rotate(-90)" font-size="11.6" textLength="34.5" lengthAdjust="spacing" text-anchor="middle" font-family="'Liberation Serif', 'Times New Roman', serif" fill="#141414">Δ (<tspan font-style="italic">μm</tspan>)</text>
<text x="267.60" y="16.40" font-size="13.2" text-anchor="start" font-family="'Liberation Serif', 'Times New Roman', serif" fill="#141414" stroke="#141414" stroke-width="0.3" >(c)</text>
<rect x="516.6" y="9.9" width="8.399999999999977" height="157.7" fill="url(#cbC)"/>
<text x="527.90" y="149.35" font-size="11.0" text-anchor="start" font-family="'Liberation Sans', Arial, sans-serif" fill="#141414" stroke="#141414" stroke-width="0.22" >0.1</text>
<text x="527.90" y="127.20" font-size="11.0" text-anchor="start" font-family="'Liberation Sans', Arial, sans-serif" fill="#141414" stroke="#141414" stroke-width="0.22" >0.2</text>
<text x="527.90" y="105.05" font-size="11.0" text-anchor="start" font-family="'Liberation Sans', Arial, sans-serif" fill="#141414" stroke="#141414" stroke-width="0.22" >0.3</text>
<text x="527.90" y="82.90" font-size="11.0" text-anchor="start" font-family="'Liberation Sans', Arial, sans-serif" fill="#141414" stroke="#141414" stroke-width="0.22" >0.4</text>
<text x="527.90" y="60.76" font-size="11.0" text-anchor="start" font-family="'Liberation Sans', Arial, sans-serif" fill="#141414" stroke="#141414" stroke-width="0.22" >0.5</text>
<text x="527.90" y="38.61" font-size="11.0" text-anchor="start" font-family="'Liberation Sans', Arial, sans-serif" fill="#141414" stroke="#141414" stroke-width="0.22" >0.6</text>
<text x="527.90" y="16.46" font-size="11.0" text-anchor="start" font-family="'Liberation Sans', Arial, sans-serif" fill="#141414" stroke="#141414" stroke-width="0.22" >0.7</text>
<rect x="516.85" y="10.15" width="7.899999999999977" height="157.2" fill="none" stroke="#3a3a3a" stroke-opacity="0.45" stroke-width="0.5"/>
<line x1="522.80" y1="156.53" x2="525.00" y2="156.53" stroke="#222" stroke-width="0.8" stroke-opacity="0.55"/>
<line x1="522.80" y1="145.45" x2="525.00" y2="145.45" stroke="#222" stroke-width="0.8" stroke-opacity="0.55"/>
<line x1="522.80" y1="134.38" x2="525.00" y2="134.38" stroke="#222" stroke-width="0.8" stroke-opacity="0.55"/>
<line x1="522.80" y1="123.30" x2="525.00" y2="123.30" stroke="#222" stroke-width="0.8" stroke-opacity="0.55"/>
<line x1="522.80" y1="112.23" x2="525.00" y2="112.23" stroke="#222" stroke-width="0.8" stroke-opacity="0.55"/>
<line x1="522.80" y1="101.15" x2="525.00" y2="101.15" stroke="#222" stroke-width="0.8" stroke-opacity="0.55"/>
<line x1="522.80" y1="90.08" x2="525.00" y2="90.08" stroke="#222" stroke-width="0.8" stroke-opacity="0.55"/>
<line x1="522.80" y1="79.00" x2="525.00" y2="79.00" stroke="#222" stroke-width="0.8" stroke-opacity="0.55"/>
<line x1="522.80" y1="67.93" x2="525.00" y2="67.93" stroke="#222" stroke-width="0.8" stroke-opacity="0.55"/>
<line x1="522.80" y1="56.86" x2="525.00" y2="56.86" stroke="#222" stroke-width="0.8" stroke-opacity="0.55"/>
<line x1="522.80" y1="45.78" x2="525.00" y2="45.78" stroke="#222" stroke-width="0.8" stroke-opacity="0.55"/>
<line x1="522.80" y1="34.71" x2="525.00" y2="34.71" stroke="#222" stroke-width="0.8" stroke-opacity="0.55"/>
<line x1="522.80" y1="23.63" x2="525.00" y2="23.63" stroke="#222" stroke-width="0.8" stroke-opacity="0.55"/>
<line x1="522.80" y1="12.56" x2="525.00" y2="12.56" stroke="#222" stroke-width="0.8" stroke-opacity="0.55"/>
<path d="M317.40,253.60C319.15,253.13 324.33,251.53 327.90,250.80C331.47,250.07 335.17,249.60 338.80,249.20C342.43,248.80 346.43,248.53 349.70,248.40C352.97,248.27 356.03,248.25 358.40,248.40C360.77,248.55 362.05,248.70 363.90,249.30C365.75,249.90 367.90,250.97 369.50,252.00C371.10,253.03 372.25,254.20 373.50,255.50C374.75,256.80 375.88,258.13 377.00,259.80C378.12,261.47 379.10,263.35 380.20,265.50C381.30,267.65 382.47,269.78 383.60,272.70C384.73,275.62 385.85,279.20 387.00,283.00C388.15,286.80 389.35,291.17 390.50,295.50C391.65,299.83 392.77,304.47 393.90,309.00C395.03,313.53 396.17,318.70 397.30,322.70C398.43,326.70 399.57,330.53 400.70,333.00C401.83,335.47 402.92,337.40 404.10,337.50C405.28,337.60 406.82,335.15 407.80,333.60C408.78,332.05 409.37,330.05 410.00,328.20C410.63,326.35 410.82,325.77 411.60,322.50C412.38,319.23 413.73,313.05 414.70,308.60C415.67,304.15 416.63,299.73 417.40,295.80C418.17,291.87 418.98,286.80 419.30,285.00L420.2,262L420.95,224.5L421.4,262L421.8,350.5C421.86,348.25 422.02,341.48 422.15,337.00C422.28,332.52 422.31,328.33 422.60,323.60C422.89,318.87 423.33,313.23 423.90,308.60C424.47,303.97 425.15,299.53 426.00,295.80C426.85,292.07 428.03,288.85 429.00,286.20C429.97,283.55 430.67,281.88 431.80,279.90C432.93,277.92 434.17,276.45 435.80,274.30C437.43,272.15 439.42,269.18 441.60,267.00C443.78,264.82 445.98,263.13 448.90,261.20C451.82,259.27 455.47,257.22 459.10,255.40C462.73,253.58 466.82,251.77 470.70,250.30C474.58,248.83 478.52,247.65 482.40,246.60C486.28,245.55 490.00,244.80 494.00,244.00C498.00,243.20 504.07,242.20 506.40,241.80C508.73,241.40 507.73,241.63 508.00,241.60" fill="none" stroke="#f02828" stroke-width="1.2" stroke-linejoin="round"/>
<rect x="317.4" y="206.6" width="190.60000000000002" height="152.70000000000002" fill="none" stroke="#2b2b2b" stroke-width="1.1"/>
<line x1="317.40" y1="359.30" x2="317.40" y2="355.80" stroke="#2b2b2b" stroke-width="1.0" />
<line x1="317.40" y1="206.60" x2="317.40" y2="210.10" stroke="#2b2b2b" stroke-width="1.0" />
<text x="317.40" y="371.80" font-size="11.0" text-anchor="middle" font-family="'Liberation Sans', Arial, sans-serif" fill="#141414" stroke="#141414" stroke-width="0.22" >12.8</text>
<line x1="341.22" y1="359.30" x2="341.22" y2="357.30" stroke="#2b2b2b" stroke-width="1.0" />
<line x1="341.22" y1="206.60" x2="341.22" y2="208.60" stroke="#2b2b2b" stroke-width="1.0" />
<line x1="365.05" y1="359.30" x2="365.05" y2="355.80" stroke="#2b2b2b" stroke-width="1.0" />
<line x1="365.05" y1="206.60" x2="365.05" y2="210.10" stroke="#2b2b2b" stroke-width="1.0" />
<text x="365.05" y="371.80" font-size="11.0" text-anchor="middle" font-family="'Liberation Sans', Arial, sans-serif" fill="#141414" stroke="#141414" stroke-width="0.22" >13.0</text>
<line x1="388.88" y1="359.30" x2="388.88" y2="357.30" stroke="#2b2b2b" stroke-width="1.0" />
<line x1="388.88" y1="206.60" x2="388.88" y2="208.60" stroke="#2b2b2b" stroke-width="1.0" />
<line x1="412.70" y1="359.30" x2="412.70" y2="355.80" stroke="#2b2b2b" stroke-width="1.0" />
<line x1="412.70" y1="206.60" x2="412.70" y2="210.10" stroke="#2b2b2b" stroke-width="1.0" />
<text x="412.70" y="371.80" font-size="11.0" text-anchor="middle" font-family="'Liberation Sans', Arial, sans-serif" fill="#141414" stroke="#141414" stroke-width="0.22" >13.2</text>
<line x1="436.52" y1="359.30" x2="436.52" y2="357.30" stroke="#2b2b2b" stroke-width="1.0" />
<line x1="436.52" y1="206.60" x2="436.52" y2="208.60" stroke="#2b2b2b" stroke-width="1.0" />
<line x1="460.35" y1="359.30" x2="460.35" y2="355.80" stroke="#2b2b2b" stroke-width="1.0" />
<line x1="460.35" y1="206.60" x2="460.35" y2="210.10" stroke="#2b2b2b" stroke-width="1.0" />
<text x="460.35" y="371.80" font-size="11.0" text-anchor="middle" font-family="'Liberation Sans', Arial, sans-serif" fill="#141414" stroke="#141414" stroke-width="0.22" >13.4</text>
<line x1="484.17" y1="359.30" x2="484.17" y2="357.30" stroke="#2b2b2b" stroke-width="1.0" />
<line x1="484.17" y1="206.60" x2="484.17" y2="208.60" stroke="#2b2b2b" stroke-width="1.0" />
<line x1="508.00" y1="359.30" x2="508.00" y2="355.80" stroke="#2b2b2b" stroke-width="1.0" />
<line x1="508.00" y1="206.60" x2="508.00" y2="210.10" stroke="#2b2b2b" stroke-width="1.0" />
<text x="508.00" y="371.80" font-size="11.0" text-anchor="middle" font-family="'Liberation Sans', Arial, sans-serif" fill="#141414" stroke="#141414" stroke-width="0.22" >13.6</text>
<line x1="317.40" y1="350.30" x2="320.90" y2="350.30" stroke="#2b2b2b" stroke-width="1.0" />
<line x1="508.00" y1="350.30" x2="504.50" y2="350.30" stroke="#2b2b2b" stroke-width="1.0" />
<text x="314.40" y="354.20" font-size="11.0" text-anchor="end" font-family="'Liberation Sans', Arial, sans-serif" fill="#141414" stroke="#141414" stroke-width="0.22" >0.0</text>
<line x1="317.40" y1="332.36" x2="319.40" y2="332.36" stroke="#2b2b2b" stroke-width="1.0" />
<line x1="508.00" y1="332.36" x2="506.00" y2="332.36" stroke="#2b2b2b" stroke-width="1.0" />
<line x1="317.40" y1="314.42" x2="320.90" y2="314.42" stroke="#2b2b2b" stroke-width="1.0" />
<line x1="508.00" y1="314.42" x2="504.50" y2="314.42" stroke="#2b2b2b" stroke-width="1.0" />
<text x="314.40" y="318.32" font-size="11.0" text-anchor="end" font-family="'Liberation Sans', Arial, sans-serif" fill="#141414" stroke="#141414" stroke-width="0.22" >0.2</text>
<line x1="317.40" y1="296.48" x2="319.40" y2="296.48" stroke="#2b2b2b" stroke-width="1.0" />
<line x1="508.00" y1="296.48" x2="506.00" y2="296.48" stroke="#2b2b2b" stroke-width="1.0" />
<line x1="317.40" y1="278.54" x2="320.90" y2="278.54" stroke="#2b2b2b" stroke-width="1.0" />
<line x1="508.00" y1="278.54" x2="504.50" y2="278.54" stroke="#2b2b2b" stroke-width="1.0" />
<text x="314.40" y="282.44" font-size="11.0" text-anchor="end" font-family="'Liberation Sans', Arial, sans-serif" fill="#141414" stroke="#141414" stroke-width="0.22" >0.4</text>
<line x1="317.40" y1="260.60" x2="319.40" y2="260.60" stroke="#2b2b2b" stroke-width="1.0" />
<line x1="508.00" y1="260.60" x2="506.00" y2="260.60" stroke="#2b2b2b" stroke-width="1.0" />
<line x1="317.40" y1="242.66" x2="320.90" y2="242.66" stroke="#2b2b2b" stroke-width="1.0" />
<line x1="508.00" y1="242.66" x2="504.50" y2="242.66" stroke="#2b2b2b" stroke-width="1.0" />
<text x="314.40" y="246.56" font-size="11.0" text-anchor="end" font-family="'Liberation Sans', Arial, sans-serif" fill="#141414" stroke="#141414" stroke-width="0.22" >0.6</text>
<line x1="317.40" y1="224.72" x2="319.40" y2="224.72" stroke="#2b2b2b" stroke-width="1.0" />
<line x1="508.00" y1="224.72" x2="506.00" y2="224.72" stroke="#2b2b2b" stroke-width="1.0" />
<line x1="317.40" y1="206.78" x2="320.90" y2="206.78" stroke="#2b2b2b" stroke-width="1.0" />
<line x1="508.00" y1="206.78" x2="504.50" y2="206.78" stroke="#2b2b2b" stroke-width="1.0" />
<text x="314.40" y="210.68" font-size="11.0" text-anchor="end" font-family="'Liberation Sans', Arial, sans-serif" fill="#141414" stroke="#141414" stroke-width="0.22" >0.8</text>
<text x="413.20" y="385.20" font-size="11.2" text-anchor="middle" font-family="'Liberation Sans', Arial, sans-serif" fill="#141414" stroke="#141414" stroke-width="0.22" >Wavelength (<tspan font-family="Liberation Serif, serif">μ</tspan>m)</text>
<text transform="translate(292.7,289.5) rotate(-90)" font-size="10.9" text-anchor="middle" font-family="'Liberation Sans', Arial, sans-serif" fill="#141414">Reflectance</text>
<text x="274.20" y="202.00" font-size="13.4" text-anchor="start" font-family="'Liberation Serif', 'Times New Roman', serif" fill="#141414" stroke="#141414" stroke-width="0.3" >(d)</text>
<text x="400.2" y="222.6" font-size="13.2" font-family="'Liberation Serif', 'Times New Roman', serif" fill="#141414" stroke="#141414" stroke-width="0.25">13.234 nm</text></svg>
</body></html>
